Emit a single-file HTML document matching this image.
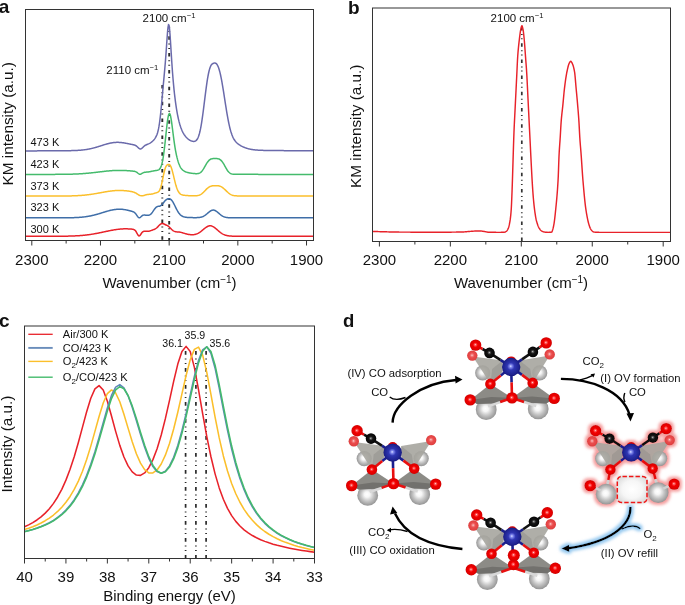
<!DOCTYPE html>
<html><head><meta charset="utf-8"><title>Figure</title>
<style>html,body{margin:0;padding:0;background:#fff;width:685px;height:605px;overflow:hidden}svg{display:block}text{fill:#111}</style>
</head><body>
<svg width="685" height="605" viewBox="0 0 685 605">
<defs>
<radialGradient id="gO" cx="0.5" cy="0.5" r="0.55" fx="0.47" fy="0.46"><stop offset="0" stop-color="#ffe0e0"/><stop offset="0.13" stop-color="#ff6060"/><stop offset="0.38" stop-color="#f20000"/><stop offset="0.82" stop-color="#dc0000"/><stop offset="1" stop-color="#b40000"/></radialGradient>
<radialGradient id="gOl" cx="0.5" cy="0.5" r="0.55" fx="0.47" fy="0.46"><stop offset="0" stop-color="#ffe8e8"/><stop offset="0.15" stop-color="#f58a8a"/><stop offset="0.42" stop-color="#ea4d4d"/><stop offset="0.85" stop-color="#e04040"/><stop offset="1" stop-color="#c43434"/></radialGradient>
<radialGradient id="gB" cx="0.5" cy="0.5" r="0.55" fx="0.47" fy="0.46"><stop offset="0" stop-color="#e0e6ff"/><stop offset="0.12" stop-color="#8890f2"/><stop offset="0.36" stop-color="#2f36b2"/><stop offset="0.78" stop-color="#1e2390"/><stop offset="1" stop-color="#121470"/></radialGradient>
<radialGradient id="gC" cx="0.5" cy="0.5" r="0.55" fx="0.48" fy="0.47"><stop offset="0" stop-color="#d0d0d0"/><stop offset="0.12" stop-color="#6a6a6a"/><stop offset="0.35" stop-color="#151515"/><stop offset="1" stop-color="#000"/></radialGradient>
<radialGradient id="gW" cx="0.5" cy="0.5" r="0.55" fx="0.46" fy="0.44"><stop offset="0" stop-color="#fff"/><stop offset="0.24" stop-color="#f6f6f6"/><stop offset="0.55" stop-color="#c6c6c6"/><stop offset="0.86" stop-color="#9c9c9c"/><stop offset="1" stop-color="#868686"/></radialGradient>
<radialGradient id="gV" cx="0.5" cy="0.5" r="0.62"><stop offset="0" stop-color="#fff"/><stop offset="0.55" stop-color="#f6f6f6"/><stop offset="1" stop-color="#dadada"/></radialGradient>
<filter id="glowR" x="-20%" y="-20%" width="140%" height="140%"><feMorphology in="SourceAlpha" operator="dilate" radius="2.2" result="d"/><feGaussianBlur in="d" stdDeviation="1.7" result="b"/><feFlood flood-color="#f07070" flood-opacity="0.68"/><feComposite in2="b" operator="in" result="g"/><feMerge><feMergeNode in="g"/><feMergeNode in="SourceGraphic"/></feMerge></filter>
<filter id="glowB" x="-20%" y="-20%" width="140%" height="140%"><feMorphology in="SourceAlpha" operator="dilate" radius="1.6" result="d"/><feGaussianBlur in="d" stdDeviation="1.5" result="b"/><feFlood flood-color="#7dbcec" flood-opacity="0.8"/><feComposite in2="b" operator="in" result="g"/><feMerge><feMergeNode in="g"/><feMergeNode in="SourceGraphic"/></feMerge></filter>
<filter id="soft" x="-30%" y="-30%" width="160%" height="160%"><feGaussianBlur stdDeviation="1.5"/></filter>
</defs>
<rect width="685" height="605" fill="#fff"/>
<g id="pa">
<line x1="169.2" y1="26" x2="169.2" y2="240" stroke="#2a2a2a" stroke-width="1.9" stroke-dasharray="3.5 3.7 1 3.4 1 4.2" stroke-dashoffset="6.5"/>
<line x1="162.3" y1="85" x2="162.3" y2="240" stroke="#2a2a2a" stroke-width="1.9" stroke-dasharray="3.5 3.7 1 3.4 1 4.2" stroke-dashoffset="0"/>
<path d="M25.50,150.90 L26.00,150.90 L26.50,150.90 L27.00,150.90 L27.50,150.90 L28.00,150.90 L28.50,150.90 L29.00,150.90 L29.50,150.89 L30.00,150.89 L30.50,150.89 L31.00,150.89 L31.50,150.89 L32.00,150.89 L32.50,150.89 L33.00,150.89 L33.50,150.88 L34.00,150.88 L34.50,150.88 L35.00,150.88 L35.50,150.88 L36.00,150.88 L36.50,150.88 L37.00,150.88 L37.50,150.87 L38.00,150.87 L38.50,150.87 L39.00,150.87 L39.50,150.87 L40.00,150.87 L40.50,150.86 L41.00,150.86 L41.50,150.86 L42.00,150.86 L42.50,150.86 L43.00,150.86 L43.50,150.86 L44.00,150.85 L44.50,150.85 L45.00,150.85 L45.50,150.85 L46.00,150.85 L46.50,150.85 L47.00,150.84 L47.50,150.84 L48.00,150.84 L48.50,150.84 L49.00,150.84 L49.50,150.83 L50.00,150.83 L50.50,150.83 L51.00,150.83 L51.50,150.83 L52.00,150.82 L52.50,150.82 L53.00,150.82 L53.50,150.82 L54.00,150.82 L54.50,150.81 L55.00,150.81 L55.50,150.81 L56.00,150.81 L56.50,150.80 L57.00,150.80 L57.50,150.80 L58.00,150.79 L58.50,150.79 L59.00,150.79 L59.50,150.79 L60.00,150.78 L60.50,150.78 L61.00,150.77 L61.50,150.77 L62.00,150.77 L62.50,150.76 L63.00,150.76 L63.50,150.75 L64.00,150.75 L64.50,150.74 L65.00,150.74 L65.50,150.73 L66.00,150.73 L66.50,150.72 L67.00,150.71 L67.50,150.70 L68.00,150.70 L68.50,150.69 L69.00,150.68 L69.50,150.67 L70.00,150.66 L70.50,150.65 L71.00,150.64 L71.50,150.62 L72.00,150.61 L72.50,150.60 L73.00,150.58 L73.50,150.56 L74.00,150.55 L74.50,150.53 L75.00,150.51 L75.50,150.48 L76.00,150.46 L76.50,150.44 L77.00,150.41 L77.50,150.38 L78.00,150.35 L78.50,150.32 L79.00,150.29 L79.50,150.25 L80.00,150.21 L80.50,150.17 L81.00,150.13 L81.50,150.08 L82.00,150.03 L82.50,149.98 L83.00,149.93 L83.50,149.87 L84.00,149.81 L84.50,149.75 L85.00,149.68 L85.50,149.62 L86.00,149.54 L86.50,149.47 L87.00,149.39 L87.50,149.30 L88.00,149.22 L88.50,149.13 L89.00,149.03 L89.50,148.93 L90.00,148.83 L90.50,148.73 L91.00,148.62 L91.50,148.50 L92.00,148.39 L92.50,148.27 L93.00,148.14 L93.50,148.01 L94.00,147.88 L94.50,147.75 L95.00,147.61 L95.50,147.47 L96.00,147.33 L96.50,147.18 L97.00,147.03 L97.50,146.88 L98.00,146.73 L98.50,146.57 L99.00,146.41 L99.50,146.26 L100.00,146.10 L100.50,145.94 L101.00,145.77 L101.50,145.61 L102.00,145.45 L102.50,145.29 L103.00,145.13 L103.50,144.97 L104.00,144.82 L104.50,144.66 L105.00,144.51 L105.50,144.36 L106.00,144.21 L106.50,144.07 L107.00,143.93 L107.50,143.79 L108.00,143.66 L108.50,143.53 L109.00,143.41 L109.50,143.30 L110.00,143.18 L110.50,143.08 L111.00,142.98 L111.50,142.89 L112.00,142.80 L112.50,142.72 L113.00,142.65 L113.50,142.59 L114.00,142.53 L114.50,142.48 L115.00,142.44 L115.50,142.41 L116.00,142.38 L116.50,142.36 L117.00,142.35 L117.50,142.35 L118.00,142.35 L118.50,142.36 L119.00,142.38 L119.50,142.41 L120.00,142.44 L120.50,142.48 L121.00,142.52 L121.50,142.58 L122.00,142.63 L122.50,142.70 L123.00,142.77 L123.50,142.84 L124.00,142.92 L124.50,143.00 L125.00,143.09 L125.50,143.18 L126.00,143.27 L126.50,143.37 L127.00,143.47 L127.50,143.57 L128.00,143.67 L128.50,143.77 L129.00,143.87 L129.50,143.98 L130.00,144.08 L130.50,144.18 L131.00,144.28 L131.50,144.38 L132.00,144.48 L132.50,144.58 L133.00,144.69 L133.50,144.80 L134.00,144.92 L134.50,145.07 L135.00,145.25 L135.50,145.47 L136.00,145.75 L136.50,146.09 L137.00,146.49 L137.50,146.95 L138.00,147.44 L138.50,147.92 L139.00,148.36 L139.50,148.70 L140.00,148.91 L140.50,148.96 L141.00,148.84 L141.50,148.57 L142.00,148.18 L142.50,147.72 L143.00,147.21 L143.50,146.72 L144.00,146.26 L144.50,145.85 L145.00,145.50 L145.50,145.20 L146.00,144.95 L146.50,144.72 L147.00,144.51 L147.50,144.31 L148.00,144.10 L148.50,143.88 L149.00,143.64 L149.50,143.38 L150.00,143.10 L150.50,142.80 L151.00,142.47 L151.50,142.11 L152.00,141.71 L152.50,141.28 L153.00,140.81 L153.50,140.29 L154.00,139.72 L154.50,139.10 L155.00,138.40 L155.50,137.61 L156.00,136.71 L156.50,135.66 L157.00,134.42 L157.50,132.93 L158.00,131.11 L158.50,128.90 L159.00,126.22 L159.50,123.00 L160.00,119.22 L160.50,114.87 L161.00,110.03 L161.50,104.79 L162.00,99.31 L162.50,93.73 L163.00,88.18 L163.50,82.72 L164.00,77.33 L164.50,71.91 L165.00,66.26 L165.50,60.20 L166.00,53.60 L166.50,46.51 L167.00,39.29 L167.50,32.62 L168.00,27.45 L168.50,24.74 L169.00,25.09 L169.50,28.49 L170.00,34.33 L170.50,41.71 L171.00,49.72 L171.50,57.70 L172.00,65.26 L172.50,72.21 L173.00,78.50 L173.50,84.19 L174.00,89.32 L174.50,93.97 L175.00,98.19 L175.50,102.06 L176.00,105.59 L176.50,108.83 L177.00,111.80 L177.50,114.52 L178.00,117.02 L178.50,119.30 L179.00,121.39 L179.50,123.29 L180.00,125.02 L180.50,126.60 L181.00,128.03 L181.50,129.33 L182.00,130.52 L182.50,131.59 L183.00,132.58 L183.50,133.47 L184.00,134.30 L184.50,135.05 L185.00,135.75 L185.50,136.39 L186.00,136.99 L186.50,137.53 L187.00,138.04 L187.50,138.51 L188.00,138.93 L188.50,139.33 L189.00,139.68 L189.50,140.01 L190.00,140.30 L190.50,140.56 L191.00,140.78 L191.50,140.98 L192.00,141.14 L192.50,141.27 L193.00,141.36 L193.50,141.40 L194.00,141.39 L194.50,141.33 L195.00,141.19 L195.50,140.96 L196.00,140.62 L196.50,140.16 L197.00,139.55 L197.50,138.77 L198.00,137.78 L198.50,136.56 L199.00,135.09 L199.50,133.34 L200.00,131.30 L200.50,128.96 L201.00,126.32 L201.50,123.38 L202.00,120.16 L202.50,116.69 L203.00,113.01 L203.50,109.15 L204.00,105.18 L204.50,101.15 L205.00,97.12 L205.50,93.15 L206.00,89.30 L206.50,85.62 L207.00,82.17 L207.50,78.99 L208.00,76.10 L208.50,73.52 L209.00,71.28 L209.50,69.36 L210.00,67.76 L210.50,66.47 L211.00,65.46 L211.50,64.70 L212.00,64.15 L212.50,63.76 L213.00,63.50 L213.50,63.29 L214.00,63.13 L214.50,63.03 L215.00,63.03 L215.50,63.15 L216.00,63.42 L216.50,63.85 L217.00,64.46 L217.50,65.28 L218.00,66.30 L218.50,67.55 L219.00,69.02 L219.50,70.72 L220.00,72.65 L220.50,74.79 L221.00,77.15 L221.50,79.70 L222.00,82.43 L222.50,85.31 L223.00,88.32 L223.50,91.44 L224.00,94.62 L224.50,97.85 L225.00,101.09 L225.50,104.31 L226.00,107.49 L226.50,110.58 L227.00,113.58 L227.50,116.45 L228.00,119.18 L228.50,121.76 L229.00,124.17 L229.50,126.40 L230.00,128.46 L230.50,130.34 L231.00,132.06 L231.50,133.61 L232.00,135.00 L232.50,136.25 L233.00,137.36 L233.50,138.36 L234.00,139.24 L234.50,140.03 L235.00,140.74 L235.50,141.38 L236.00,141.95 L236.50,142.47 L237.00,142.95 L237.50,143.39 L238.00,143.80 L238.50,144.18 L239.00,144.53 L239.50,144.87 L240.00,145.19 L240.50,145.49 L241.00,145.78 L241.50,146.06 L242.00,146.32 L242.50,146.57 L243.00,146.81 L243.50,147.04 L244.00,147.25 L244.50,147.46 L245.00,147.66 L245.50,147.85 L246.00,148.02 L246.50,148.19 L247.00,148.35 L247.50,148.50 L248.00,148.64 L248.50,148.78 L249.00,148.90 L249.50,149.02 L250.00,149.13 L250.50,149.23 L251.00,149.33 L251.50,149.42 L252.00,149.51 L252.50,149.58 L253.00,149.66 L253.50,149.72 L254.00,149.79 L254.50,149.85 L255.00,149.90 L255.50,149.95 L256.00,150.00 L256.50,150.04 L257.00,150.08 L257.50,150.12 L258.00,150.15 L258.50,150.18 L259.00,150.21 L259.50,150.24 L260.00,150.26 L260.50,150.28 L261.00,150.30 L261.50,150.32 L262.00,150.34 L262.50,150.36 L263.00,150.37 L263.50,150.39 L264.00,150.40 L264.50,150.41 L265.00,150.42 L265.50,150.44 L266.00,150.45 L266.50,150.45 L267.00,150.46 L267.50,150.47 L268.00,150.48 L268.50,150.49 L269.00,150.49 L269.50,150.50 L270.00,150.51 L270.50,150.51 L271.00,150.52 L271.50,150.53 L272.00,150.53 L272.50,150.54 L273.00,150.54 L273.50,150.55 L274.00,150.55 L274.50,150.56 L275.00,150.56 L275.50,150.56 L276.00,150.57 L276.50,150.57 L277.00,150.58 L277.50,150.58 L278.00,150.58 L278.50,150.59 L279.00,150.59 L279.50,150.60 L280.00,150.60 L280.50,150.60 L281.00,150.61 L281.50,150.61 L282.00,150.61 L282.50,150.62 L283.00,150.62 L283.50,150.62 L284.00,150.63 L284.50,150.63 L285.00,150.63 L285.50,150.64 L286.00,150.64 L286.50,150.64 L287.00,150.65 L287.50,150.65 L288.00,150.65 L288.50,150.65 L289.00,150.66 L289.50,150.66 L290.00,150.66 L290.50,150.66 L291.00,150.67 L291.50,150.67 L292.00,150.67 L292.50,150.68 L293.00,150.68 L293.50,150.68 L294.00,150.68 L294.50,150.69 L295.00,150.69 L295.50,150.69 L296.00,150.69 L296.50,150.70 L297.00,150.70 L297.50,150.70 L298.00,150.70 L298.50,150.70 L299.00,150.71 L299.50,150.71 L300.00,150.71 L300.50,150.71 L301.00,150.72 L301.50,150.72 L302.00,150.72 L302.50,150.72 L303.00,150.72 L303.50,150.73 L304.00,150.73 L304.50,150.73 L305.00,150.73 L305.50,150.73 L306.00,150.74 L306.50,150.74 L307.00,150.74 L307.50,150.74 L308.00,150.74 L308.50,150.74 L309.00,150.75 L309.50,150.75 L310.00,150.75 L310.50,150.75 L311.00,150.75 L311.50,150.75 L312.00,150.76 L312.50,150.76 L313.00,150.76" fill="none" stroke="#6a6aab" stroke-width="1.5"/>
<path d="M25.50,174.41 L26.00,174.41 L26.50,174.41 L27.00,174.41 L27.50,174.41 L28.00,174.41 L28.50,174.41 L29.00,174.41 L29.50,174.41 L30.00,174.41 L30.50,174.41 L31.00,174.41 L31.50,174.41 L32.00,174.41 L32.50,174.41 L33.00,174.41 L33.50,174.41 L34.00,174.41 L34.50,174.41 L35.00,174.41 L35.50,174.41 L36.00,174.41 L36.50,174.40 L37.00,174.40 L37.50,174.40 L38.00,174.40 L38.50,174.40 L39.00,174.40 L39.50,174.40 L40.00,174.40 L40.50,174.40 L41.00,174.40 L41.50,174.40 L42.00,174.40 L42.50,174.40 L43.00,174.40 L43.50,174.40 L44.00,174.40 L44.50,174.40 L45.00,174.40 L45.50,174.40 L46.00,174.40 L46.50,174.40 L47.00,174.40 L47.50,174.40 L48.00,174.40 L48.50,174.39 L49.00,174.39 L49.50,174.39 L50.00,174.39 L50.50,174.39 L51.00,174.39 L51.50,174.39 L52.00,174.39 L52.50,174.39 L53.00,174.38 L53.50,174.38 L54.00,174.38 L54.50,174.38 L55.00,174.38 L55.50,174.37 L56.00,174.37 L56.50,174.37 L57.00,174.37 L57.50,174.36 L58.00,174.36 L58.50,174.36 L59.00,174.35 L59.50,174.35 L60.00,174.35 L60.50,174.34 L61.00,174.34 L61.50,174.33 L62.00,174.33 L62.50,174.32 L63.00,174.32 L63.50,174.31 L64.00,174.31 L64.50,174.30 L65.00,174.29 L65.50,174.29 L66.00,174.28 L66.50,174.27 L67.00,174.26 L67.50,174.25 L68.00,174.24 L68.50,174.23 L69.00,174.22 L69.50,174.21 L70.00,174.20 L70.50,174.18 L71.00,174.17 L71.50,174.16 L72.00,174.14 L72.50,174.13 L73.00,174.11 L73.50,174.10 L74.00,174.08 L74.50,174.06 L75.00,174.04 L75.50,174.02 L76.00,174.00 L76.50,173.98 L77.00,173.96 L77.50,173.93 L78.00,173.91 L78.50,173.88 L79.00,173.86 L79.50,173.83 L80.00,173.80 L80.50,173.77 L81.00,173.74 L81.50,173.71 L82.00,173.68 L82.50,173.64 L83.00,173.61 L83.50,173.57 L84.00,173.53 L84.50,173.50 L85.00,173.46 L85.50,173.42 L86.00,173.37 L86.50,173.33 L87.00,173.29 L87.50,173.24 L88.00,173.20 L88.50,173.15 L89.00,173.10 L89.50,173.06 L90.00,173.01 L90.50,172.95 L91.00,172.90 L91.50,172.85 L92.00,172.80 L92.50,172.74 L93.00,172.69 L93.50,172.63 L94.00,172.58 L94.50,172.52 L95.00,172.46 L95.50,172.40 L96.00,172.34 L96.50,172.29 L97.00,172.23 L97.50,172.17 L98.00,172.11 L98.50,172.05 L99.00,171.99 L99.50,171.92 L100.00,171.86 L100.50,171.80 L101.00,171.74 L101.50,171.68 L102.00,171.63 L102.50,171.57 L103.00,171.51 L103.50,171.45 L104.00,171.39 L104.50,171.34 L105.00,171.28 L105.50,171.23 L106.00,171.17 L106.50,171.12 L107.00,171.07 L107.50,171.02 L108.00,170.97 L108.50,170.93 L109.00,170.88 L109.50,170.84 L110.00,170.79 L110.50,170.75 L111.00,170.71 L111.50,170.68 L112.00,170.64 L112.50,170.61 L113.00,170.58 L113.50,170.55 L114.00,170.52 L114.50,170.50 L115.00,170.48 L115.50,170.46 L116.00,170.44 L116.50,170.42 L117.00,170.41 L117.50,170.40 L118.00,170.39 L118.50,170.39 L119.00,170.38 L119.50,170.38 L120.00,170.38 L120.50,170.39 L121.00,170.39 L121.50,170.40 L122.00,170.41 L122.50,170.42 L123.00,170.44 L123.50,170.46 L124.00,170.48 L124.50,170.50 L125.00,170.52 L125.50,170.55 L126.00,170.58 L126.50,170.61 L127.00,170.64 L127.50,170.67 L128.00,170.71 L128.50,170.74 L129.00,170.78 L129.50,170.82 L130.00,170.86 L130.50,170.91 L131.00,170.95 L131.50,171.00 L132.00,171.04 L132.50,171.09 L133.00,171.15 L133.50,171.20 L134.00,171.27 L134.50,171.35 L135.00,171.46 L135.50,171.61 L136.00,171.81 L136.50,172.08 L137.00,172.41 L137.50,172.80 L138.00,173.22 L138.50,173.62 L139.00,173.97 L139.50,174.20 L140.00,174.29 L140.50,174.22 L141.00,174.02 L141.50,173.73 L142.00,173.40 L142.50,173.08 L143.00,172.80 L143.50,172.58 L144.00,172.42 L144.50,172.31 L145.00,172.24 L145.50,172.19 L146.00,172.15 L146.50,172.12 L147.00,172.08 L147.50,172.04 L148.00,171.98 L148.50,171.92 L149.00,171.84 L149.50,171.76 L150.00,171.67 L150.50,171.57 L151.00,171.46 L151.50,171.35 L152.00,171.24 L152.50,171.13 L153.00,171.02 L153.50,170.92 L154.00,170.82 L154.50,170.73 L155.00,170.65 L155.50,170.57 L156.00,170.50 L156.50,170.43 L157.00,170.35 L157.50,170.24 L158.00,170.10 L158.50,169.89 L159.00,169.59 L159.50,169.16 L160.00,168.56 L160.50,167.75 L161.00,166.66 L161.50,165.24 L162.00,163.44 L162.50,161.21 L163.00,158.52 L163.50,155.36 L164.00,151.72 L164.50,147.66 L165.00,143.25 L165.50,138.61 L166.00,133.87 L166.50,129.21 L167.00,124.83 L167.50,120.92 L168.00,117.69 L168.50,115.29 L169.00,113.87 L169.50,113.49 L170.00,114.15 L170.50,115.79 L171.00,118.27 L171.50,121.43 L172.00,125.07 L172.50,128.99 L173.00,133.00 L173.50,136.95 L174.00,140.71 L174.50,144.21 L175.00,147.40 L175.50,150.30 L176.00,152.91 L176.50,155.28 L177.00,157.43 L177.50,159.38 L178.00,161.13 L178.50,162.71 L179.00,164.10 L179.50,165.32 L180.00,166.37 L180.50,167.29 L181.00,168.07 L181.50,168.75 L182.00,169.33 L182.50,169.83 L183.00,170.26 L183.50,170.64 L184.00,170.98 L184.50,171.27 L185.00,171.53 L185.50,171.76 L186.00,171.97 L186.50,172.15 L187.00,172.32 L187.50,172.47 L188.00,172.60 L188.50,172.72 L189.00,172.83 L189.50,172.93 L190.00,173.02 L190.50,173.11 L191.00,173.18 L191.50,173.25 L192.00,173.32 L192.50,173.38 L193.00,173.43 L193.50,173.48 L194.00,173.53 L194.50,173.57 L195.00,173.60 L195.50,173.63 L196.00,173.64 L196.50,173.65 L197.00,173.64 L197.50,173.61 L198.00,173.54 L198.50,173.44 L199.00,173.30 L199.50,173.10 L200.00,172.84 L200.50,172.51 L201.00,172.11 L201.50,171.62 L202.00,171.05 L202.50,170.40 L203.00,169.68 L203.50,168.90 L204.00,168.07 L204.50,167.20 L205.00,166.31 L205.50,165.42 L206.00,164.55 L206.50,163.71 L207.00,162.92 L207.50,162.18 L208.00,161.51 L208.50,160.91 L209.00,160.39 L209.50,159.94 L210.00,159.57 L210.50,159.27 L211.00,159.03 L211.50,158.85 L212.00,158.73 L212.50,158.64 L213.00,158.59 L213.50,158.56 L214.00,158.55 L214.50,158.55 L215.00,158.55 L215.50,158.56 L216.00,158.56 L216.50,158.58 L217.00,158.61 L217.50,158.67 L218.00,158.76 L218.50,158.88 L219.00,159.06 L219.50,159.28 L220.00,159.58 L220.50,159.94 L221.00,160.37 L221.50,160.88 L222.00,161.47 L222.50,162.13 L223.00,162.86 L223.50,163.65 L224.00,164.49 L224.50,165.37 L225.00,166.27 L225.50,167.17 L226.00,168.06 L226.50,168.92 L227.00,169.74 L227.50,170.50 L228.00,171.19 L228.50,171.80 L229.00,172.33 L229.50,172.78 L230.00,173.16 L230.50,173.46 L231.00,173.70 L231.50,173.89 L232.00,174.02 L232.50,174.12 L233.00,174.20 L233.50,174.24 L234.00,174.28 L234.50,174.30 L235.00,174.31 L235.50,174.32 L236.00,174.33 L236.50,174.33 L237.00,174.34 L237.50,174.34 L238.00,174.34 L238.50,174.34 L239.00,174.34 L239.50,174.34 L240.00,174.34 L240.50,174.35 L241.00,174.35 L241.50,174.35 L242.00,174.35 L242.50,174.35 L243.00,174.35 L243.50,174.35 L244.00,174.35 L244.50,174.35 L245.00,174.36 L245.50,174.36 L246.00,174.36 L246.50,174.36 L247.00,174.36 L247.50,174.36 L248.00,174.36 L248.50,174.36 L249.00,174.36 L249.50,174.36 L250.00,174.36 L250.50,174.36 L251.00,174.37 L251.50,174.37 L252.00,174.37 L252.50,174.37 L253.00,174.37 L253.50,174.37 L254.00,174.37 L254.50,174.37 L255.00,174.37 L255.50,174.37 L256.00,174.37 L256.50,174.37 L257.00,174.37 L257.50,174.37 L258.00,174.37 L258.50,174.38 L259.00,174.38 L259.50,174.38 L260.00,174.38 L260.50,174.38 L261.00,174.38 L261.50,174.38 L262.00,174.38 L262.50,174.38 L263.00,174.38 L263.50,174.38 L264.00,174.38 L264.50,174.38 L265.00,174.38 L265.50,174.38 L266.00,174.38 L266.50,174.38 L267.00,174.38 L267.50,174.38 L268.00,174.38 L268.50,174.39 L269.00,174.39 L269.50,174.39 L270.00,174.39 L270.50,174.39 L271.00,174.39 L271.50,174.39 L272.00,174.39 L272.50,174.39 L273.00,174.39 L273.50,174.39 L274.00,174.39 L274.50,174.39 L275.00,174.39 L275.50,174.39 L276.00,174.39 L276.50,174.39 L277.00,174.39 L277.50,174.39 L278.00,174.39 L278.50,174.39 L279.00,174.39 L279.50,174.39 L280.00,174.39 L280.50,174.39 L281.00,174.39 L281.50,174.39 L282.00,174.39 L282.50,174.39 L283.00,174.39 L283.50,174.39 L284.00,174.40 L284.50,174.40 L285.00,174.40 L285.50,174.40 L286.00,174.40 L286.50,174.40 L287.00,174.40 L287.50,174.40 L288.00,174.40 L288.50,174.40 L289.00,174.40 L289.50,174.40 L290.00,174.40 L290.50,174.40 L291.00,174.40 L291.50,174.40 L292.00,174.40 L292.50,174.40 L293.00,174.40 L293.50,174.40 L294.00,174.40 L294.50,174.40 L295.00,174.40 L295.50,174.40 L296.00,174.40 L296.50,174.40 L297.00,174.40 L297.50,174.40 L298.00,174.40 L298.50,174.40 L299.00,174.40 L299.50,174.40 L300.00,174.40 L300.50,174.40 L301.00,174.40 L301.50,174.40 L302.00,174.40 L302.50,174.40 L303.00,174.40 L303.50,174.40 L304.00,174.40 L304.50,174.40 L305.00,174.40 L305.50,174.40 L306.00,174.40 L306.50,174.40 L307.00,174.40 L307.50,174.40 L308.00,174.40 L308.50,174.40 L309.00,174.40 L309.50,174.40 L310.00,174.40 L310.50,174.41 L311.00,174.41 L311.50,174.41 L312.00,174.41 L312.50,174.41 L313.00,174.41" fill="none" stroke="#44bb6c" stroke-width="1.5"/>
<path d="M25.50,196.10 L26.00,196.10 L26.50,196.10 L27.00,196.10 L27.50,196.10 L28.00,196.10 L28.50,196.10 L29.00,196.10 L29.50,196.10 L30.00,196.10 L30.50,196.10 L31.00,196.10 L31.50,196.09 L32.00,196.09 L32.50,196.09 L33.00,196.09 L33.50,196.09 L34.00,196.09 L34.50,196.09 L35.00,196.09 L35.50,196.09 L36.00,196.09 L36.50,196.09 L37.00,196.09 L37.50,196.09 L38.00,196.09 L38.50,196.09 L39.00,196.09 L39.50,196.09 L40.00,196.09 L40.50,196.09 L41.00,196.09 L41.50,196.09 L42.00,196.09 L42.50,196.09 L43.00,196.09 L43.50,196.09 L44.00,196.09 L44.50,196.09 L45.00,196.09 L45.50,196.09 L46.00,196.09 L46.50,196.09 L47.00,196.09 L47.50,196.09 L48.00,196.09 L48.50,196.09 L49.00,196.09 L49.50,196.09 L50.00,196.09 L50.50,196.09 L51.00,196.09 L51.50,196.09 L52.00,196.08 L52.50,196.08 L53.00,196.08 L53.50,196.08 L54.00,196.08 L54.50,196.08 L55.00,196.08 L55.50,196.08 L56.00,196.07 L56.50,196.07 L57.00,196.07 L57.50,196.07 L58.00,196.07 L58.50,196.07 L59.00,196.06 L59.50,196.06 L60.00,196.06 L60.50,196.05 L61.00,196.05 L61.50,196.05 L62.00,196.04 L62.50,196.04 L63.00,196.03 L63.50,196.03 L64.00,196.03 L64.50,196.02 L65.00,196.01 L65.50,196.01 L66.00,196.00 L66.50,195.99 L67.00,195.99 L67.50,195.98 L68.00,195.97 L68.50,195.96 L69.00,195.95 L69.50,195.94 L70.00,195.93 L70.50,195.92 L71.00,195.90 L71.50,195.89 L72.00,195.87 L72.50,195.86 L73.00,195.84 L73.50,195.83 L74.00,195.81 L74.50,195.79 L75.00,195.77 L75.50,195.75 L76.00,195.72 L76.50,195.70 L77.00,195.68 L77.50,195.65 L78.00,195.62 L78.50,195.59 L79.00,195.56 L79.50,195.53 L80.00,195.50 L80.50,195.46 L81.00,195.43 L81.50,195.39 L82.00,195.35 L82.50,195.31 L83.00,195.27 L83.50,195.22 L84.00,195.18 L84.50,195.13 L85.00,195.08 L85.50,195.03 L86.00,194.98 L86.50,194.92 L87.00,194.86 L87.50,194.80 L88.00,194.74 L88.50,194.68 L89.00,194.62 L89.50,194.55 L90.00,194.48 L90.50,194.41 L91.00,194.34 L91.50,194.27 L92.00,194.20 L92.50,194.12 L93.00,194.04 L93.50,193.96 L94.00,193.88 L94.50,193.80 L95.00,193.72 L95.50,193.63 L96.00,193.55 L96.50,193.46 L97.00,193.37 L97.50,193.28 L98.00,193.19 L98.50,193.10 L99.00,193.01 L99.50,192.92 L100.00,192.83 L100.50,192.74 L101.00,192.64 L101.50,192.55 L102.00,192.46 L102.50,192.37 L103.00,192.28 L103.50,192.19 L104.00,192.10 L104.50,192.01 L105.00,191.92 L105.50,191.83 L106.00,191.75 L106.50,191.67 L107.00,191.58 L107.50,191.50 L108.00,191.43 L108.50,191.35 L109.00,191.28 L109.50,191.20 L110.00,191.14 L110.50,191.07 L111.00,191.01 L111.50,190.95 L112.00,190.89 L112.50,190.83 L113.00,190.78 L113.50,190.74 L114.00,190.69 L114.50,190.65 L115.00,190.62 L115.50,190.58 L116.00,190.55 L116.50,190.53 L117.00,190.51 L117.50,190.49 L118.00,190.48 L118.50,190.47 L119.00,190.46 L119.50,190.46 L120.00,190.46 L120.50,190.47 L121.00,190.48 L121.50,190.49 L122.00,190.51 L122.50,190.54 L123.00,190.56 L123.50,190.59 L124.00,190.63 L124.50,190.66 L125.00,190.71 L125.50,190.75 L126.00,190.80 L126.50,190.85 L127.00,190.90 L127.50,190.96 L128.00,191.02 L128.50,191.09 L129.00,191.16 L129.50,191.23 L130.00,191.31 L130.50,191.39 L131.00,191.48 L131.50,191.58 L132.00,191.69 L132.50,191.81 L133.00,191.95 L133.50,192.10 L134.00,192.28 L134.50,192.47 L135.00,192.70 L135.50,192.94 L136.00,193.21 L136.50,193.50 L137.00,193.81 L137.50,194.12 L138.00,194.44 L138.50,194.74 L139.00,195.02 L139.50,195.28 L140.00,195.49 L140.50,195.65 L141.00,195.76 L141.50,195.82 L142.00,195.82 L142.50,195.77 L143.00,195.68 L143.50,195.56 L144.00,195.42 L144.50,195.27 L145.00,195.11 L145.50,194.96 L146.00,194.83 L146.50,194.71 L147.00,194.60 L147.50,194.52 L148.00,194.46 L148.50,194.41 L149.00,194.37 L149.50,194.33 L150.00,194.29 L150.50,194.25 L151.00,194.19 L151.50,194.11 L152.00,194.02 L152.50,193.90 L153.00,193.77 L153.50,193.62 L154.00,193.46 L154.50,193.30 L155.00,193.14 L155.50,192.99 L156.00,192.85 L156.50,192.70 L157.00,192.55 L157.50,192.36 L158.00,192.10 L158.50,191.72 L159.00,191.18 L159.50,190.42 L160.00,189.39 L160.50,188.07 L161.00,186.43 L161.50,184.50 L162.00,182.31 L162.50,179.94 L163.00,177.50 L163.50,175.07 L164.00,172.79 L164.50,170.74 L165.00,168.98 L165.50,167.56 L166.00,166.46 L166.50,165.65 L167.00,165.09 L167.50,164.72 L168.00,164.49 L168.50,164.39 L169.00,164.43 L169.50,164.65 L170.00,165.09 L170.50,165.81 L171.00,166.84 L171.50,168.16 L172.00,169.77 L172.50,171.59 L173.00,173.59 L173.50,175.68 L174.00,177.80 L174.50,179.90 L175.00,181.92 L175.50,183.83 L176.00,185.59 L176.50,187.18 L177.00,188.60 L177.50,189.83 L178.00,190.89 L178.50,191.79 L179.00,192.53 L179.50,193.14 L180.00,193.63 L180.50,194.03 L181.00,194.34 L181.50,194.59 L182.00,194.79 L182.50,194.95 L183.00,195.07 L183.50,195.17 L184.00,195.25 L184.50,195.32 L185.00,195.38 L185.50,195.43 L186.00,195.47 L186.50,195.51 L187.00,195.54 L187.50,195.57 L188.00,195.60 L188.50,195.63 L189.00,195.65 L189.50,195.67 L190.00,195.69 L190.50,195.71 L191.00,195.73 L191.50,195.74 L192.00,195.76 L192.50,195.77 L193.00,195.78 L193.50,195.79 L194.00,195.79 L194.50,195.79 L195.00,195.79 L195.50,195.77 L196.00,195.75 L196.50,195.72 L197.00,195.66 L197.50,195.60 L198.00,195.50 L198.50,195.39 L199.00,195.24 L199.50,195.05 L200.00,194.83 L200.50,194.57 L201.00,194.27 L201.50,193.93 L202.00,193.55 L202.50,193.14 L203.00,192.68 L203.50,192.21 L204.00,191.71 L204.50,191.19 L205.00,190.67 L205.50,190.15 L206.00,189.63 L206.50,189.14 L207.00,188.66 L207.50,188.22 L208.00,187.81 L208.50,187.43 L209.00,187.10 L209.50,186.80 L210.00,186.55 L210.50,186.34 L211.00,186.16 L211.50,186.02 L212.00,185.91 L212.50,185.83 L213.00,185.78 L213.50,185.74 L214.00,185.72 L214.50,185.71 L215.00,185.70 L215.50,185.70 L216.00,185.69 L216.50,185.69 L217.00,185.71 L217.50,185.73 L218.00,185.77 L218.50,185.84 L219.00,185.93 L219.50,186.04 L220.00,186.20 L220.50,186.39 L221.00,186.61 L221.50,186.88 L222.00,187.18 L222.50,187.53 L223.00,187.90 L223.50,188.31 L224.00,188.74 L224.50,189.20 L225.00,189.67 L225.50,190.15 L226.00,190.64 L226.50,191.12 L227.00,191.59 L227.50,192.05 L228.00,192.50 L228.50,192.93 L229.00,193.33 L229.50,193.71 L230.00,194.05 L230.50,194.37 L231.00,194.64 L231.50,194.88 L232.00,195.09 L232.50,195.26 L233.00,195.41 L233.50,195.52 L234.00,195.62 L234.50,195.69 L235.00,195.75 L235.50,195.80 L236.00,195.83 L236.50,195.86 L237.00,195.89 L237.50,195.91 L238.00,195.92 L238.50,195.94 L239.00,195.95 L239.50,195.96 L240.00,195.97 L240.50,195.97 L241.00,195.98 L241.50,195.99 L242.00,195.99 L242.50,196.00 L243.00,196.00 L243.50,196.01 L244.00,196.01 L244.50,196.02 L245.00,196.02 L245.50,196.02 L246.00,196.03 L246.50,196.03 L247.00,196.03 L247.50,196.03 L248.00,196.04 L248.50,196.04 L249.00,196.04 L249.50,196.04 L250.00,196.04 L250.50,196.05 L251.00,196.05 L251.50,196.05 L252.00,196.05 L252.50,196.05 L253.00,196.05 L253.50,196.06 L254.00,196.06 L254.50,196.06 L255.00,196.06 L255.50,196.06 L256.00,196.06 L256.50,196.06 L257.00,196.06 L257.50,196.06 L258.00,196.06 L258.50,196.07 L259.00,196.07 L259.50,196.07 L260.00,196.07 L260.50,196.07 L261.00,196.07 L261.50,196.07 L262.00,196.07 L262.50,196.07 L263.00,196.07 L263.50,196.07 L264.00,196.07 L264.50,196.07 L265.00,196.07 L265.50,196.07 L266.00,196.07 L266.50,196.08 L267.00,196.08 L267.50,196.08 L268.00,196.08 L268.50,196.08 L269.00,196.08 L269.50,196.08 L270.00,196.08 L270.50,196.08 L271.00,196.08 L271.50,196.08 L272.00,196.08 L272.50,196.08 L273.00,196.08 L273.50,196.08 L274.00,196.08 L274.50,196.08 L275.00,196.08 L275.50,196.08 L276.00,196.08 L276.50,196.08 L277.00,196.08 L277.50,196.08 L278.00,196.08 L278.50,196.08 L279.00,196.08 L279.50,196.08 L280.00,196.08 L280.50,196.08 L281.00,196.08 L281.50,196.08 L282.00,196.09 L282.50,196.09 L283.00,196.09 L283.50,196.09 L284.00,196.09 L284.50,196.09 L285.00,196.09 L285.50,196.09 L286.00,196.09 L286.50,196.09 L287.00,196.09 L287.50,196.09 L288.00,196.09 L288.50,196.09 L289.00,196.09 L289.50,196.09 L290.00,196.09 L290.50,196.09 L291.00,196.09 L291.50,196.09 L292.00,196.09 L292.50,196.09 L293.00,196.09 L293.50,196.09 L294.00,196.09 L294.50,196.09 L295.00,196.09 L295.50,196.09 L296.00,196.09 L296.50,196.09 L297.00,196.09 L297.50,196.09 L298.00,196.09 L298.50,196.09 L299.00,196.09 L299.50,196.09 L300.00,196.09 L300.50,196.09 L301.00,196.09 L301.50,196.09 L302.00,196.09 L302.50,196.09 L303.00,196.09 L303.50,196.09 L304.00,196.09 L304.50,196.09 L305.00,196.09 L305.50,196.09 L306.00,196.09 L306.50,196.09 L307.00,196.09 L307.50,196.09 L308.00,196.09 L308.50,196.09 L309.00,196.09 L309.50,196.09 L310.00,196.09 L310.50,196.09 L311.00,196.09 L311.50,196.09 L312.00,196.09 L312.50,196.09 L313.00,196.09" fill="none" stroke="#fbbf2b" stroke-width="1.5"/>
<path d="M25.50,217.87 L26.00,217.87 L26.50,217.87 L27.00,217.87 L27.50,217.87 L28.00,217.87 L28.50,217.87 L29.00,217.87 L29.50,217.87 L30.00,217.87 L30.50,217.87 L31.00,217.87 L31.50,217.87 L32.00,217.87 L32.50,217.87 L33.00,217.87 L33.50,217.87 L34.00,217.87 L34.50,217.87 L35.00,217.87 L35.50,217.87 L36.00,217.87 L36.50,217.87 L37.00,217.87 L37.50,217.87 L38.00,217.87 L38.50,217.87 L39.00,217.87 L39.50,217.87 L40.00,217.87 L40.50,217.87 L41.00,217.87 L41.50,217.87 L42.00,217.87 L42.50,217.87 L43.00,217.87 L43.50,217.87 L44.00,217.87 L44.50,217.87 L45.00,217.87 L45.50,217.87 L46.00,217.87 L46.50,217.87 L47.00,217.87 L47.50,217.87 L48.00,217.87 L48.50,217.87 L49.00,217.87 L49.50,217.87 L50.00,217.87 L50.50,217.87 L51.00,217.87 L51.50,217.87 L52.00,217.87 L52.50,217.87 L53.00,217.87 L53.50,217.86 L54.00,217.86 L54.50,217.86 L55.00,217.86 L55.50,217.86 L56.00,217.86 L56.50,217.86 L57.00,217.86 L57.50,217.86 L58.00,217.86 L58.50,217.86 L59.00,217.85 L59.50,217.85 L60.00,217.85 L60.50,217.85 L61.00,217.85 L61.50,217.84 L62.00,217.84 L62.50,217.84 L63.00,217.84 L63.50,217.83 L64.00,217.83 L64.50,217.83 L65.00,217.82 L65.50,217.82 L66.00,217.81 L66.50,217.81 L67.00,217.80 L67.50,217.79 L68.00,217.79 L68.50,217.78 L69.00,217.77 L69.50,217.76 L70.00,217.75 L70.50,217.74 L71.00,217.73 L71.50,217.72 L72.00,217.71 L72.50,217.69 L73.00,217.68 L73.50,217.66 L74.00,217.64 L74.50,217.62 L75.00,217.60 L75.50,217.58 L76.00,217.56 L76.50,217.54 L77.00,217.51 L77.50,217.48 L78.00,217.45 L78.50,217.42 L79.00,217.39 L79.50,217.35 L80.00,217.32 L80.50,217.28 L81.00,217.23 L81.50,217.19 L82.00,217.14 L82.50,217.09 L83.00,217.04 L83.50,216.99 L84.00,216.93 L84.50,216.87 L85.00,216.81 L85.50,216.74 L86.00,216.67 L86.50,216.60 L87.00,216.52 L87.50,216.44 L88.00,216.36 L88.50,216.28 L89.00,216.19 L89.50,216.09 L90.00,216.00 L90.50,215.90 L91.00,215.80 L91.50,215.69 L92.00,215.58 L92.50,215.47 L93.00,215.35 L93.50,215.23 L94.00,215.11 L94.50,214.98 L95.00,214.85 L95.50,214.72 L96.00,214.59 L96.50,214.45 L97.00,214.31 L97.50,214.17 L98.00,214.02 L98.50,213.88 L99.00,213.73 L99.50,213.58 L100.00,213.42 L100.50,213.27 L101.00,213.12 L101.50,212.96 L102.00,212.80 L102.50,212.65 L103.00,212.49 L103.50,212.34 L104.00,212.18 L104.50,212.02 L105.00,211.87 L105.50,211.72 L106.00,211.57 L106.50,211.42 L107.00,211.27 L107.50,211.13 L108.00,210.99 L108.50,210.85 L109.00,210.72 L109.50,210.59 L110.00,210.47 L110.50,210.34 L111.00,210.23 L111.50,210.12 L112.00,210.01 L112.50,209.91 L113.00,209.82 L113.50,209.73 L114.00,209.65 L114.50,209.58 L115.00,209.51 L115.50,209.45 L116.00,209.39 L116.50,209.35 L117.00,209.31 L117.50,209.28 L118.00,209.25 L118.50,209.23 L119.00,209.23 L119.50,209.22 L120.00,209.23 L120.50,209.24 L121.00,209.27 L121.50,209.29 L122.00,209.33 L122.50,209.37 L123.00,209.43 L123.50,209.48 L124.00,209.55 L124.50,209.62 L125.00,209.70 L125.50,209.78 L126.00,209.87 L126.50,209.97 L127.00,210.07 L127.50,210.18 L128.00,210.29 L128.50,210.41 L129.00,210.53 L129.50,210.66 L130.00,210.79 L130.50,210.93 L131.00,211.07 L131.50,211.21 L132.00,211.36 L132.50,211.53 L133.00,211.71 L133.50,211.93 L134.00,212.19 L134.50,212.52 L135.00,212.94 L135.50,213.47 L136.00,214.10 L136.50,214.82 L137.00,215.59 L137.50,216.35 L138.00,217.01 L138.50,217.50 L139.00,217.77 L139.50,217.80 L140.00,217.60 L140.50,217.23 L141.00,216.77 L141.50,216.29 L142.00,215.86 L142.50,215.51 L143.00,215.27 L143.50,215.12 L144.00,215.06 L144.50,215.06 L145.00,215.10 L145.50,215.16 L146.00,215.22 L146.50,215.28 L147.00,215.32 L147.50,215.33 L148.00,215.31 L148.50,215.24 L149.00,215.12 L149.50,214.94 L150.00,214.68 L150.50,214.35 L151.00,213.92 L151.50,213.41 L152.00,212.82 L152.50,212.16 L153.00,211.44 L153.50,210.69 L154.00,209.94 L154.50,209.20 L155.00,208.52 L155.50,207.91 L156.00,207.40 L156.50,207.00 L157.00,206.70 L157.50,206.50 L158.00,206.37 L158.50,206.30 L159.00,206.24 L159.50,206.16 L160.00,206.02 L160.50,205.81 L161.00,205.51 L161.50,205.10 L162.00,204.60 L162.50,204.02 L163.00,203.39 L163.50,202.73 L164.00,202.07 L164.50,201.44 L165.00,200.85 L165.50,200.33 L166.00,199.89 L166.50,199.52 L167.00,199.22 L167.50,199.00 L168.00,198.84 L168.50,198.76 L169.00,198.75 L169.50,198.81 L170.00,198.97 L170.50,199.24 L171.00,199.61 L171.50,200.09 L172.00,200.69 L172.50,201.40 L173.00,202.20 L173.50,203.09 L174.00,204.03 L174.50,205.03 L175.00,206.04 L175.50,207.06 L176.00,208.07 L176.50,209.06 L177.00,210.00 L177.50,210.90 L178.00,211.74 L178.50,212.51 L179.00,213.21 L179.50,213.85 L180.00,214.41 L180.50,214.91 L181.00,215.34 L181.50,215.71 L182.00,216.03 L182.50,216.30 L183.00,216.53 L183.50,216.72 L184.00,216.88 L184.50,217.00 L185.00,217.11 L185.50,217.20 L186.00,217.27 L186.50,217.33 L187.00,217.38 L187.50,217.42 L188.00,217.46 L188.50,217.48 L189.00,217.51 L189.50,217.53 L190.00,217.55 L190.50,217.57 L191.00,217.58 L191.50,217.60 L192.00,217.61 L192.50,217.62 L193.00,217.63 L193.50,217.63 L194.00,217.64 L194.50,217.64 L195.00,217.65 L195.50,217.64 L196.00,217.64 L196.50,217.63 L197.00,217.62 L197.50,217.60 L198.00,217.57 L198.50,217.53 L199.00,217.48 L199.50,217.42 L200.00,217.35 L200.50,217.26 L201.00,217.15 L201.50,217.01 L202.00,216.86 L202.50,216.68 L203.00,216.47 L203.50,216.23 L204.00,215.96 L204.50,215.66 L205.00,215.34 L205.50,214.98 L206.00,214.60 L206.50,214.20 L207.00,213.79 L207.50,213.36 L208.00,212.93 L208.50,212.50 L209.00,212.08 L209.50,211.69 L210.00,211.32 L210.50,210.98 L211.00,210.69 L211.50,210.45 L212.00,210.27 L212.50,210.15 L213.00,210.09 L213.50,210.09 L214.00,210.16 L214.50,210.29 L215.00,210.48 L215.50,210.73 L216.00,211.03 L216.50,211.37 L217.00,211.75 L217.50,212.15 L218.00,212.57 L218.50,213.01 L219.00,213.44 L219.50,213.87 L220.00,214.29 L220.50,214.69 L221.00,215.07 L221.50,215.43 L222.00,215.75 L222.50,216.05 L223.00,216.32 L223.50,216.56 L224.00,216.77 L224.50,216.96 L225.00,217.12 L225.50,217.25 L226.00,217.37 L226.50,217.46 L227.00,217.54 L227.50,217.60 L228.00,217.66 L228.50,217.70 L229.00,217.73 L229.50,217.76 L230.00,217.78 L230.50,217.80 L231.00,217.81 L231.50,217.82 L232.00,217.83 L232.50,217.83 L233.00,217.84 L233.50,217.84 L234.00,217.84 L234.50,217.84 L235.00,217.84 L235.50,217.85 L236.00,217.85 L236.50,217.85 L237.00,217.85 L237.50,217.85 L238.00,217.85 L238.50,217.85 L239.00,217.85 L239.50,217.85 L240.00,217.85 L240.50,217.85 L241.00,217.85 L241.50,217.85 L242.00,217.85 L242.50,217.85 L243.00,217.85 L243.50,217.85 L244.00,217.85 L244.50,217.85 L245.00,217.85 L245.50,217.85 L246.00,217.86 L246.50,217.86 L247.00,217.86 L247.50,217.86 L248.00,217.86 L248.50,217.86 L249.00,217.86 L249.50,217.86 L250.00,217.86 L250.50,217.86 L251.00,217.86 L251.50,217.86 L252.00,217.86 L252.50,217.86 L253.00,217.86 L253.50,217.86 L254.00,217.86 L254.50,217.86 L255.00,217.86 L255.50,217.86 L256.00,217.86 L256.50,217.86 L257.00,217.86 L257.50,217.86 L258.00,217.86 L258.50,217.86 L259.00,217.86 L259.50,217.86 L260.00,217.86 L260.50,217.86 L261.00,217.86 L261.50,217.86 L262.00,217.86 L262.50,217.86 L263.00,217.86 L263.50,217.86 L264.00,217.86 L264.50,217.86 L265.00,217.86 L265.50,217.86 L266.00,217.86 L266.50,217.86 L267.00,217.86 L267.50,217.86 L268.00,217.86 L268.50,217.86 L269.00,217.86 L269.50,217.86 L270.00,217.86 L270.50,217.86 L271.00,217.86 L271.50,217.86 L272.00,217.87 L272.50,217.87 L273.00,217.87 L273.50,217.87 L274.00,217.87 L274.50,217.87 L275.00,217.87 L275.50,217.87 L276.00,217.87 L276.50,217.87 L277.00,217.87 L277.50,217.87 L278.00,217.87 L278.50,217.87 L279.00,217.87 L279.50,217.87 L280.00,217.87 L280.50,217.87 L281.00,217.87 L281.50,217.87 L282.00,217.87 L282.50,217.87 L283.00,217.87 L283.50,217.87 L284.00,217.87 L284.50,217.87 L285.00,217.87 L285.50,217.87 L286.00,217.87 L286.50,217.87 L287.00,217.87 L287.50,217.87 L288.00,217.87 L288.50,217.87 L289.00,217.87 L289.50,217.87 L290.00,217.87 L290.50,217.87 L291.00,217.87 L291.50,217.87 L292.00,217.87 L292.50,217.87 L293.00,217.87 L293.50,217.87 L294.00,217.87 L294.50,217.87 L295.00,217.87 L295.50,217.87 L296.00,217.87 L296.50,217.87 L297.00,217.87 L297.50,217.87 L298.00,217.87 L298.50,217.87 L299.00,217.87 L299.50,217.87 L300.00,217.87 L300.50,217.87 L301.00,217.87 L301.50,217.87 L302.00,217.87 L302.50,217.87 L303.00,217.87 L303.50,217.87 L304.00,217.87 L304.50,217.87 L305.00,217.87 L305.50,217.87 L306.00,217.87 L306.50,217.87 L307.00,217.87 L307.50,217.87 L308.00,217.87 L308.50,217.87 L309.00,217.87 L309.50,217.87 L310.00,217.87 L310.50,217.87 L311.00,217.87 L311.50,217.87 L312.00,217.87 L312.50,217.87 L313.00,217.87" fill="none" stroke="#3f6ea8" stroke-width="1.5"/>
<path d="M25.50,236.32 L26.00,236.32 L26.50,236.32 L27.00,236.32 L27.50,236.32 L28.00,236.32 L28.50,236.32 L29.00,236.32 L29.50,236.32 L30.00,236.32 L30.50,236.32 L31.00,236.32 L31.50,236.32 L32.00,236.32 L32.50,236.32 L33.00,236.32 L33.50,236.32 L34.00,236.32 L34.50,236.32 L35.00,236.32 L35.50,236.32 L36.00,236.32 L36.50,236.32 L37.00,236.32 L37.50,236.32 L38.00,236.32 L38.50,236.32 L39.00,236.32 L39.50,236.32 L40.00,236.32 L40.50,236.32 L41.00,236.32 L41.50,236.32 L42.00,236.32 L42.50,236.32 L43.00,236.32 L43.50,236.32 L44.00,236.32 L44.50,236.32 L45.00,236.32 L45.50,236.31 L46.00,236.31 L46.50,236.31 L47.00,236.31 L47.50,236.31 L48.00,236.31 L48.50,236.31 L49.00,236.31 L49.50,236.31 L50.00,236.31 L50.50,236.31 L51.00,236.30 L51.50,236.30 L52.00,236.30 L52.50,236.30 L53.00,236.30 L53.50,236.30 L54.00,236.29 L54.50,236.29 L55.00,236.29 L55.50,236.29 L56.00,236.29 L56.50,236.28 L57.00,236.28 L57.50,236.28 L58.00,236.27 L58.50,236.27 L59.00,236.27 L59.50,236.26 L60.00,236.26 L60.50,236.25 L61.00,236.25 L61.50,236.24 L62.00,236.24 L62.50,236.23 L63.00,236.23 L63.50,236.22 L64.00,236.21 L64.50,236.20 L65.00,236.20 L65.50,236.19 L66.00,236.18 L66.50,236.17 L67.00,236.16 L67.50,236.15 L68.00,236.14 L68.50,236.12 L69.00,236.11 L69.50,236.10 L70.00,236.08 L70.50,236.07 L71.00,236.05 L71.50,236.04 L72.00,236.02 L72.50,236.00 L73.00,235.98 L73.50,235.96 L74.00,235.94 L74.50,235.92 L75.00,235.89 L75.50,235.87 L76.00,235.84 L76.50,235.82 L77.00,235.79 L77.50,235.76 L78.00,235.73 L78.50,235.70 L79.00,235.66 L79.50,235.63 L80.00,235.59 L80.50,235.55 L81.00,235.52 L81.50,235.47 L82.00,235.43 L82.50,235.39 L83.00,235.34 L83.50,235.29 L84.00,235.25 L84.50,235.19 L85.00,235.14 L85.50,235.09 L86.00,235.03 L86.50,234.97 L87.00,234.91 L87.50,234.85 L88.00,234.79 L88.50,234.72 L89.00,234.65 L89.50,234.59 L90.00,234.51 L90.50,234.44 L91.00,234.37 L91.50,234.29 L92.00,234.21 L92.50,234.13 L93.00,234.05 L93.50,233.96 L94.00,233.88 L94.50,233.79 L95.00,233.70 L95.50,233.61 L96.00,233.52 L96.50,233.43 L97.00,233.33 L97.50,233.23 L98.00,233.14 L98.50,233.04 L99.00,232.94 L99.50,232.83 L100.00,232.73 L100.50,232.63 L101.00,232.52 L101.50,232.42 L102.00,232.31 L102.50,232.21 L103.00,232.10 L103.50,231.99 L104.00,231.88 L104.50,231.78 L105.00,231.67 L105.50,231.56 L106.00,231.45 L106.50,231.35 L107.00,231.24 L107.50,231.14 L108.00,231.03 L108.50,230.93 L109.00,230.82 L109.50,230.72 L110.00,230.62 L110.50,230.52 L111.00,230.43 L111.50,230.33 L112.00,230.24 L112.50,230.15 L113.00,230.06 L113.50,229.97 L114.00,229.88 L114.50,229.80 L115.00,229.72 L115.50,229.65 L116.00,229.57 L116.50,229.50 L117.00,229.43 L117.50,229.37 L118.00,229.31 L118.50,229.25 L119.00,229.19 L119.50,229.14 L120.00,229.10 L120.50,229.05 L121.00,229.01 L121.50,228.98 L122.00,228.95 L122.50,228.92 L123.00,228.89 L123.50,228.87 L124.00,228.86 L124.50,228.85 L125.00,228.84 L125.50,228.84 L126.00,228.84 L126.50,228.84 L127.00,228.85 L127.50,228.87 L128.00,228.88 L128.50,228.90 L129.00,228.93 L129.50,228.96 L130.00,228.99 L130.50,229.03 L131.00,229.07 L131.50,229.12 L132.00,229.17 L132.50,229.24 L133.00,229.33 L133.50,229.46 L134.00,229.64 L134.50,229.91 L135.00,230.30 L135.50,230.83 L136.00,231.53 L136.50,232.37 L137.00,233.30 L137.50,234.23 L138.00,235.04 L138.50,235.63 L139.00,235.89 L139.50,235.80 L140.00,235.39 L140.50,234.75 L141.00,233.99 L141.50,233.23 L142.00,232.56 L142.50,232.03 L143.00,231.65 L143.50,231.42 L144.00,231.30 L144.50,231.26 L145.00,231.26 L145.50,231.28 L146.00,231.31 L146.50,231.33 L147.00,231.34 L147.50,231.33 L148.00,231.29 L148.50,231.23 L149.00,231.14 L149.50,231.03 L150.00,230.90 L150.50,230.75 L151.00,230.59 L151.50,230.41 L152.00,230.23 L152.50,230.04 L153.00,229.85 L153.50,229.65 L154.00,229.44 L154.50,229.22 L155.00,228.97 L155.50,228.68 L156.00,228.36 L156.50,227.99 L157.00,227.57 L157.50,227.10 L158.00,226.61 L158.50,226.09 L159.00,225.57 L159.50,225.07 L160.00,224.61 L160.50,224.22 L161.00,223.92 L161.50,223.70 L162.00,223.59 L162.50,223.57 L163.00,223.64 L163.50,223.79 L164.00,223.99 L164.50,224.22 L165.00,224.47 L165.50,224.72 L166.00,224.96 L166.50,225.20 L167.00,225.44 L167.50,225.70 L168.00,225.99 L168.50,226.34 L169.00,226.74 L169.50,227.19 L170.00,227.69 L170.50,228.22 L171.00,228.75 L171.50,229.26 L172.00,229.74 L172.50,230.19 L173.00,230.58 L173.50,230.91 L174.00,231.19 L174.50,231.42 L175.00,231.59 L175.50,231.71 L176.00,231.80 L176.50,231.86 L177.00,231.90 L177.50,231.93 L178.00,231.95 L178.50,231.98 L179.00,232.03 L179.50,232.08 L180.00,232.16 L180.50,232.25 L181.00,232.36 L181.50,232.49 L182.00,232.63 L182.50,232.78 L183.00,232.93 L183.50,233.09 L184.00,233.25 L184.50,233.40 L185.00,233.56 L185.50,233.70 L186.00,233.84 L186.50,233.97 L187.00,234.10 L187.50,234.21 L188.00,234.31 L188.50,234.40 L189.00,234.49 L189.50,234.56 L190.00,234.61 L190.50,234.66 L191.00,234.69 L191.50,234.71 L192.00,234.72 L192.50,234.71 L193.00,234.68 L193.50,234.64 L194.00,234.58 L194.50,234.50 L195.00,234.40 L195.50,234.27 L196.00,234.13 L196.50,233.96 L197.00,233.77 L197.50,233.56 L198.00,233.32 L198.50,233.06 L199.00,232.77 L199.50,232.46 L200.00,232.13 L200.50,231.77 L201.00,231.40 L201.50,231.01 L202.00,230.61 L202.50,230.20 L203.00,229.78 L203.50,229.36 L204.00,228.94 L204.50,228.53 L205.00,228.13 L205.50,227.74 L206.00,227.38 L206.50,227.04 L207.00,226.74 L207.50,226.47 L208.00,226.24 L208.50,226.05 L209.00,225.91 L209.50,225.81 L210.00,225.77 L210.50,225.78 L211.00,225.84 L211.50,225.95 L212.00,226.11 L212.50,226.31 L213.00,226.56 L213.50,226.85 L214.00,227.17 L214.50,227.52 L215.00,227.90 L215.50,228.31 L216.00,228.73 L216.50,229.16 L217.00,229.60 L217.50,230.04 L218.00,230.48 L218.50,230.92 L219.00,231.34 L219.50,231.75 L220.00,232.15 L220.50,232.53 L221.00,232.89 L221.50,233.23 L222.00,233.55 L222.50,233.85 L223.00,234.12 L223.50,234.37 L224.00,234.60 L224.50,234.81 L225.00,235.00 L225.50,235.17 L226.00,235.31 L226.50,235.45 L227.00,235.56 L227.50,235.67 L228.00,235.76 L228.50,235.83 L229.00,235.90 L229.50,235.96 L230.00,236.01 L230.50,236.05 L231.00,236.08 L231.50,236.11 L232.00,236.14 L232.50,236.16 L233.00,236.18 L233.50,236.19 L234.00,236.20 L234.50,236.21 L235.00,236.22 L235.50,236.23 L236.00,236.23 L236.50,236.24 L237.00,236.24 L237.50,236.25 L238.00,236.25 L238.50,236.25 L239.00,236.25 L239.50,236.26 L240.00,236.26 L240.50,236.26 L241.00,236.26 L241.50,236.26 L242.00,236.26 L242.50,236.27 L243.00,236.27 L243.50,236.27 L244.00,236.27 L244.50,236.27 L245.00,236.27 L245.50,236.27 L246.00,236.27 L246.50,236.27 L247.00,236.27 L247.50,236.28 L248.00,236.28 L248.50,236.28 L249.00,236.28 L249.50,236.28 L250.00,236.28 L250.50,236.28 L251.00,236.28 L251.50,236.28 L252.00,236.28 L252.50,236.28 L253.00,236.28 L253.50,236.28 L254.00,236.29 L254.50,236.29 L255.00,236.29 L255.50,236.29 L256.00,236.29 L256.50,236.29 L257.00,236.29 L257.50,236.29 L258.00,236.29 L258.50,236.29 L259.00,236.29 L259.50,236.29 L260.00,236.29 L260.50,236.29 L261.00,236.29 L261.50,236.29 L262.00,236.29 L262.50,236.30 L263.00,236.30 L263.50,236.30 L264.00,236.30 L264.50,236.30 L265.00,236.30 L265.50,236.30 L266.00,236.30 L266.50,236.30 L267.00,236.30 L267.50,236.30 L268.00,236.30 L268.50,236.30 L269.00,236.30 L269.50,236.30 L270.00,236.30 L270.50,236.30 L271.00,236.30 L271.50,236.30 L272.00,236.30 L272.50,236.30 L273.00,236.30 L273.50,236.30 L274.00,236.30 L274.50,236.31 L275.00,236.31 L275.50,236.31 L276.00,236.31 L276.50,236.31 L277.00,236.31 L277.50,236.31 L278.00,236.31 L278.50,236.31 L279.00,236.31 L279.50,236.31 L280.00,236.31 L280.50,236.31 L281.00,236.31 L281.50,236.31 L282.00,236.31 L282.50,236.31 L283.00,236.31 L283.50,236.31 L284.00,236.31 L284.50,236.31 L285.00,236.31 L285.50,236.31 L286.00,236.31 L286.50,236.31 L287.00,236.31 L287.50,236.31 L288.00,236.31 L288.50,236.31 L289.00,236.31 L289.50,236.31 L290.00,236.31 L290.50,236.31 L291.00,236.31 L291.50,236.31 L292.00,236.31 L292.50,236.31 L293.00,236.31 L293.50,236.31 L294.00,236.31 L294.50,236.32 L295.00,236.32 L295.50,236.32 L296.00,236.32 L296.50,236.32 L297.00,236.32 L297.50,236.32 L298.00,236.32 L298.50,236.32 L299.00,236.32 L299.50,236.32 L300.00,236.32 L300.50,236.32 L301.00,236.32 L301.50,236.32 L302.00,236.32 L302.50,236.32 L303.00,236.32 L303.50,236.32 L304.00,236.32 L304.50,236.32 L305.00,236.32 L305.50,236.32 L306.00,236.32 L306.50,236.32 L307.00,236.32 L307.50,236.32 L308.00,236.32 L308.50,236.32 L309.00,236.32 L309.50,236.32 L310.00,236.32 L310.50,236.32 L311.00,236.32 L311.50,236.32 L312.00,236.32 L312.50,236.32 L313.00,236.32" fill="none" stroke="#e8222a" stroke-width="1.5"/>
<rect x="25.5" y="9.5" width="288" height="231" fill="none" stroke="#333" stroke-width="1"/>
<line x1="31.80" y1="240.5" x2="31.80" y2="245.5" stroke="#333" stroke-width="1"/>
<text x="31.80" y="265" text-anchor="middle" style="font-family:'Liberation Sans',Arial,Helvetica,sans-serif;font-size:15px">2300</text>
<line x1="66.14" y1="240.5" x2="66.14" y2="243.5" stroke="#333" stroke-width="1"/>
<line x1="100.48" y1="240.5" x2="100.48" y2="245.5" stroke="#333" stroke-width="1"/>
<text x="100.48" y="265" text-anchor="middle" style="font-family:'Liberation Sans',Arial,Helvetica,sans-serif;font-size:15px">2200</text>
<line x1="134.82" y1="240.5" x2="134.82" y2="243.5" stroke="#333" stroke-width="1"/>
<line x1="169.16" y1="240.5" x2="169.16" y2="245.5" stroke="#333" stroke-width="1"/>
<text x="169.16" y="265" text-anchor="middle" style="font-family:'Liberation Sans',Arial,Helvetica,sans-serif;font-size:15px">2100</text>
<line x1="203.50" y1="240.5" x2="203.50" y2="243.5" stroke="#333" stroke-width="1"/>
<line x1="237.84" y1="240.5" x2="237.84" y2="245.5" stroke="#333" stroke-width="1"/>
<text x="237.84" y="265" text-anchor="middle" style="font-family:'Liberation Sans',Arial,Helvetica,sans-serif;font-size:15px">2000</text>
<line x1="272.18" y1="240.5" x2="272.18" y2="243.5" stroke="#333" stroke-width="1"/>
<line x1="306.52" y1="240.5" x2="306.52" y2="245.5" stroke="#333" stroke-width="1"/>
<text x="306.52" y="265" text-anchor="middle" style="font-family:'Liberation Sans',Arial,Helvetica,sans-serif;font-size:15px">1900</text>
<text x="169.5" y="288.4" text-anchor="middle" style="font-family:'Liberation Sans',Arial,Helvetica,sans-serif;font-size:15px">Wavenumber (cm<tspan dy="-5" style="font-size:10px">−1</tspan><tspan dy="5">)</tspan></text>
<text transform="translate(13,123.8) rotate(-90)" text-anchor="middle" style="font-family:'Liberation Sans',Arial,Helvetica,sans-serif;font-size:15.3px">KM intensity (a.u.)</text>
<text x="30.5" y="145.9" style="font-family:'Liberation Sans',Arial,Helvetica,sans-serif;font-size:11px">473 K</text>
<text x="30.5" y="168.1" style="font-family:'Liberation Sans',Arial,Helvetica,sans-serif;font-size:11px">423 K</text>
<text x="30.5" y="189.8" style="font-family:'Liberation Sans',Arial,Helvetica,sans-serif;font-size:11px">373 K</text>
<text x="30.5" y="211.0" style="font-family:'Liberation Sans',Arial,Helvetica,sans-serif;font-size:11px">323 K</text>
<text x="30.5" y="232.7" style="font-family:'Liberation Sans',Arial,Helvetica,sans-serif;font-size:11px">300 K</text>
<text x="142.6" y="21.9" style="font-family:'Liberation Sans',Arial,Helvetica,sans-serif;font-size:11.5px">2100 cm<tspan dy="-3.8" style="font-size:7.6px">−1</tspan></text>
<text x="106.3" y="73.8" style="font-family:'Liberation Sans',Arial,Helvetica,sans-serif;font-size:11.5px">2110 cm<tspan dy="-3.8" style="font-size:7.6px">−1</tspan></text>
<text x="-1.2" y="13.2" style="font-family:'Liberation Sans',Arial,Helvetica,sans-serif;font-size:19px;font-weight:bold">a</text>
</g>
<g id="pb">
<line x1="521.8" y1="27" x2="521.8" y2="241" stroke="#333" stroke-width="1.7" stroke-dasharray="3.5 3.5 1 3.2 1 4" stroke-dashoffset="0"/>
<path d="M373.00,231.40 L373.25,231.41 L373.50,231.42 L373.75,231.43 L374.00,231.44 L374.25,231.45 L374.50,231.46 L374.75,231.47 L375.00,231.48 L375.25,231.49 L375.50,231.50 L375.75,231.51 L376.00,231.51 L376.25,231.52 L376.50,231.53 L376.75,231.54 L377.00,231.55 L377.25,231.56 L377.50,231.57 L377.75,231.58 L378.00,231.59 L378.25,231.60 L378.50,231.60 L378.75,231.61 L379.00,231.62 L379.25,231.63 L379.50,231.64 L379.75,231.65 L380.00,231.65 L380.25,231.66 L380.50,231.67 L380.75,231.68 L381.00,231.69 L381.25,231.69 L381.50,231.70 L381.75,231.71 L382.00,231.72 L382.25,231.72 L382.50,231.73 L382.75,231.74 L383.00,231.75 L383.25,231.75 L383.50,231.76 L383.75,231.77 L384.00,231.77 L384.25,231.78 L384.50,231.79 L384.75,231.79 L385.00,231.80 L385.25,231.81 L385.50,231.81 L385.75,231.82 L386.00,231.83 L386.25,231.83 L386.50,231.84 L386.75,231.84 L387.00,231.85 L387.25,231.86 L387.50,231.86 L387.75,231.87 L388.00,231.88 L388.25,231.88 L388.50,231.89 L388.75,231.90 L389.00,231.90 L389.25,231.91 L389.50,231.92 L389.75,231.92 L390.00,231.93 L390.25,231.93 L390.50,231.94 L390.75,231.95 L391.00,231.95 L391.25,231.96 L391.50,231.96 L391.75,231.97 L392.00,231.98 L392.25,231.98 L392.50,231.99 L392.75,231.99 L393.00,232.00 L393.25,232.00 L393.50,232.01 L393.75,232.01 L394.00,232.02 L394.25,232.02 L394.50,232.03 L394.75,232.03 L395.00,232.04 L395.25,232.04 L395.50,232.05 L395.75,232.05 L396.00,232.06 L396.25,232.06 L396.50,232.06 L396.75,232.07 L397.00,232.07 L397.25,232.07 L397.50,232.08 L397.75,232.08 L398.00,232.08 L398.25,232.09 L398.50,232.09 L398.75,232.09 L399.00,232.09 L399.25,232.10 L399.50,232.10 L399.75,232.10 L400.00,232.10 L400.25,232.10 L400.50,232.10 L400.75,232.10 L401.00,232.10 L401.25,232.11 L401.50,232.11 L401.75,232.11 L402.00,232.11 L402.25,232.11 L402.50,232.11 L402.75,232.11 L403.00,232.11 L403.25,232.12 L403.50,232.12 L403.75,232.12 L404.00,232.12 L404.25,232.12 L404.50,232.12 L404.75,232.12 L405.00,232.12 L405.25,232.12 L405.50,232.13 L405.75,232.13 L406.00,232.13 L406.25,232.13 L406.50,232.13 L406.75,232.13 L407.00,232.13 L407.25,232.13 L407.50,232.13 L407.75,232.14 L408.00,232.14 L408.25,232.14 L408.50,232.14 L408.75,232.14 L409.00,232.14 L409.25,232.14 L409.50,232.14 L409.75,232.14 L410.00,232.14 L410.25,232.14 L410.50,232.15 L410.75,232.15 L411.00,232.15 L411.25,232.15 L411.50,232.15 L411.75,232.15 L412.00,232.15 L412.25,232.15 L412.50,232.15 L412.75,232.15 L413.00,232.15 L413.25,232.16 L413.50,232.16 L413.75,232.16 L414.00,232.16 L414.25,232.16 L414.50,232.16 L414.75,232.16 L415.00,232.16 L415.25,232.16 L415.50,232.16 L415.75,232.16 L416.00,232.16 L416.25,232.16 L416.50,232.17 L416.75,232.17 L417.00,232.17 L417.25,232.17 L417.50,232.17 L417.75,232.17 L418.00,232.17 L418.25,232.17 L418.50,232.17 L418.75,232.17 L419.00,232.17 L419.25,232.17 L419.50,232.17 L419.75,232.17 L420.00,232.18 L420.25,232.18 L420.50,232.18 L420.75,232.18 L421.00,232.18 L421.25,232.18 L421.50,232.18 L421.75,232.18 L422.00,232.18 L422.25,232.18 L422.50,232.18 L422.75,232.18 L423.00,232.18 L423.25,232.18 L423.50,232.18 L423.75,232.18 L424.00,232.18 L424.25,232.18 L424.50,232.19 L424.75,232.19 L425.00,232.19 L425.25,232.19 L425.50,232.19 L425.75,232.19 L426.00,232.19 L426.25,232.19 L426.50,232.19 L426.75,232.19 L427.00,232.19 L427.25,232.19 L427.50,232.19 L427.75,232.19 L428.00,232.19 L428.25,232.19 L428.50,232.19 L428.75,232.19 L429.00,232.19 L429.25,232.19 L429.50,232.19 L429.75,232.19 L430.00,232.19 L430.25,232.19 L430.50,232.19 L430.75,232.19 L431.00,232.19 L431.25,232.20 L431.50,232.20 L431.75,232.20 L432.00,232.20 L432.25,232.20 L432.50,232.20 L432.75,232.20 L433.00,232.20 L433.25,232.20 L433.50,232.20 L433.75,232.20 L434.00,232.20 L434.25,232.20 L434.50,232.20 L434.75,232.20 L435.00,232.20 L435.25,232.20 L435.50,232.20 L435.75,232.20 L436.00,232.20 L436.25,232.20 L436.50,232.20 L436.75,232.20 L437.00,232.20 L437.25,232.20 L437.50,232.20 L437.75,232.20 L438.00,232.20 L438.25,232.20 L438.50,232.20 L438.75,232.20 L439.00,232.20 L439.25,232.20 L439.50,232.20 L439.75,232.20 L440.00,232.20 L440.25,232.20 L440.50,232.20 L440.75,232.20 L441.00,232.20 L441.25,232.20 L441.50,232.20 L441.75,232.20 L442.00,232.20 L442.25,232.20 L442.50,232.20 L442.75,232.20 L443.00,232.20 L443.25,232.20 L443.50,232.20 L443.75,232.19 L444.00,232.19 L444.25,232.19 L444.50,232.19 L444.75,232.19 L445.00,232.19 L445.25,232.19 L445.50,232.19 L445.75,232.19 L446.00,232.19 L446.25,232.18 L446.50,232.18 L446.75,232.18 L447.00,232.18 L447.25,232.18 L447.50,232.18 L447.75,232.18 L448.00,232.17 L448.25,232.17 L448.50,232.17 L448.75,232.17 L449.00,232.17 L449.25,232.17 L449.50,232.16 L449.75,232.16 L450.00,232.16 L450.25,232.16 L450.50,232.16 L450.75,232.15 L451.00,232.15 L451.25,232.15 L451.50,232.15 L451.75,232.14 L452.00,232.14 L452.25,232.14 L452.50,232.14 L452.75,232.13 L453.00,232.13 L453.25,232.13 L453.50,232.13 L453.75,232.12 L454.00,232.12 L454.25,232.12 L454.50,232.11 L454.75,232.11 L455.00,232.11 L455.25,232.10 L455.50,232.10 L455.75,232.10 L456.00,232.10 L456.25,232.09 L456.50,232.09 L456.75,232.08 L457.00,232.08 L457.25,232.08 L457.50,232.07 L457.75,232.07 L458.00,232.07 L458.25,232.06 L458.50,232.06 L458.75,232.06 L459.00,232.05 L459.25,232.05 L459.50,232.04 L459.75,232.04 L460.00,232.04 L460.25,232.03 L460.50,232.03 L460.75,232.02 L461.00,232.02 L461.25,232.01 L461.50,232.01 L461.75,232.00 L462.00,232.00 L462.25,231.99 L462.50,231.99 L462.75,231.98 L463.00,231.97 L463.25,231.95 L463.50,231.94 L463.75,231.93 L464.00,231.91 L464.25,231.89 L464.50,231.87 L464.75,231.85 L465.00,231.83 L465.25,231.81 L465.50,231.79 L465.75,231.77 L466.00,231.75 L466.25,231.72 L466.50,231.70 L466.75,231.68 L467.00,231.65 L467.25,231.63 L467.50,231.60 L467.75,231.58 L468.00,231.56 L468.25,231.54 L468.50,231.51 L468.75,231.49 L469.00,231.47 L469.25,231.45 L469.50,231.43 L469.75,231.42 L470.00,231.40 L470.25,231.38 L470.50,231.37 L470.75,231.35 L471.00,231.33 L471.25,231.31 L471.50,231.30 L471.75,231.28 L472.00,231.26 L472.25,231.24 L472.50,231.22 L472.75,231.20 L473.00,231.19 L473.25,231.17 L473.50,231.15 L473.75,231.13 L474.00,231.11 L474.25,231.10 L474.50,231.08 L474.75,231.06 L475.00,231.05 L475.25,231.03 L475.50,231.01 L475.75,231.00 L476.00,230.99 L476.25,230.97 L476.50,230.96 L476.75,230.95 L477.00,230.94 L477.25,230.93 L477.50,230.92 L477.75,230.92 L478.00,230.91 L478.25,230.91 L478.50,230.90 L478.75,230.90 L479.00,230.90 L479.25,230.90 L479.50,230.91 L479.75,230.92 L480.00,230.93 L480.25,230.95 L480.50,230.97 L480.75,230.99 L481.00,231.02 L481.25,231.05 L481.50,231.08 L481.75,231.11 L482.00,231.14 L482.25,231.18 L482.50,231.22 L482.75,231.25 L483.00,231.29 L483.25,231.33 L483.50,231.37 L483.75,231.41 L484.00,231.45 L484.25,231.49 L484.50,231.53 L484.75,231.56 L485.00,231.60 L485.25,231.64 L485.50,231.68 L485.75,231.73 L486.00,231.79 L486.25,231.84 L486.50,231.90 L486.75,231.96 L487.00,232.02 L487.25,232.07 L487.50,232.12 L487.75,232.17 L488.00,232.21 L488.25,232.25 L488.50,232.27 L488.75,232.29 L489.00,232.30 L489.25,232.30 L489.50,232.31 L489.75,232.31 L490.00,232.31 L490.25,232.31 L490.50,232.31 L490.75,232.32 L491.00,232.32 L491.25,232.32 L491.50,232.32 L491.75,232.32 L492.00,232.33 L492.25,232.33 L492.50,232.33 L492.75,232.33 L493.00,232.33 L493.25,232.33 L493.50,232.33 L493.75,232.34 L494.00,232.34 L494.25,232.34 L494.50,232.34 L494.75,232.34 L495.00,232.34 L495.25,232.34 L495.50,232.34 L495.75,232.34 L496.00,232.34 L496.25,232.35 L496.50,232.35 L496.75,232.35 L497.00,232.35 L497.25,232.35 L497.50,232.35 L497.75,232.35 L498.00,232.35 L498.25,232.35 L498.50,232.35 L498.75,232.35 L499.00,232.35 L499.25,232.35 L499.50,232.35 L499.75,232.35 L500.00,232.35 L500.25,232.35 L500.50,232.35 L500.75,232.35 L501.00,232.34 L501.25,232.34 L501.50,232.33 L501.75,232.33 L502.00,232.32 L502.25,232.32 L502.50,232.31 L502.75,232.30 L503.00,232.29 L503.25,232.27 L503.50,232.26 L503.75,232.25 L504.00,232.23 L504.25,232.22 L504.50,232.20 L504.75,232.16 L505.00,232.09 L505.25,231.98 L505.50,231.84 L505.75,231.69 L506.00,231.52 L506.25,231.34 L506.50,231.14 L506.75,230.89 L507.00,230.59 L507.25,230.24 L507.50,229.85 L507.75,229.41 L508.00,228.92 L508.25,228.39 L508.50,227.73 L508.75,226.94 L509.00,226.00 L509.25,224.93 L509.50,223.73 L509.75,222.42 L510.00,221.00 L510.25,219.38 L510.50,217.45 L510.75,215.14 L511.00,212.41 L511.25,209.19 L511.50,204.50 L511.75,198.66 L512.00,192.50 L512.25,185.64 L512.50,178.09 L512.75,170.09 L513.00,161.86 L513.25,153.66 L513.50,145.71 L513.75,138.26 L514.00,131.53 L514.25,125.72 L514.50,120.61 L514.75,115.79 L515.00,110.90 L515.25,105.84 L515.50,100.79 L515.75,95.73 L516.00,90.68 L516.25,85.62 L516.50,80.56 L516.75,75.51 L517.00,70.26 L517.25,64.75 L517.50,59.68 L517.75,55.71 L518.00,52.48 L518.25,49.58 L518.50,46.96 L518.75,44.56 L519.00,42.34 L519.25,40.24 L519.50,38.20 L519.75,36.19 L520.00,34.24 L520.25,32.43 L520.50,30.84 L520.75,29.52 L521.00,28.42 L521.25,27.35 L521.50,26.45 L521.75,25.90 L522.00,25.84 L522.25,26.29 L522.50,27.11 L522.75,28.16 L523.00,29.30 L523.25,30.72 L523.50,32.60 L523.75,34.81 L524.00,37.21 L524.25,39.77 L524.50,42.73 L524.75,46.00 L525.00,49.45 L525.25,52.96 L525.50,56.40 L525.75,59.70 L526.00,62.95 L526.25,66.27 L526.50,69.81 L526.75,73.68 L527.00,78.12 L527.25,83.20 L527.50,88.53 L527.75,93.71 L528.00,98.77 L528.25,103.82 L528.50,108.88 L528.75,113.95 L529.00,119.07 L529.25,124.15 L529.50,129.10 L529.75,134.01 L530.00,139.02 L530.25,144.08 L530.50,149.17 L530.75,154.25 L531.00,159.28 L531.25,164.24 L531.50,169.08 L531.75,173.76 L532.00,178.27 L532.25,182.55 L532.50,186.58 L532.75,190.32 L533.00,193.73 L533.25,196.82 L533.50,199.69 L533.75,202.37 L534.00,204.83 L534.25,207.09 L534.50,209.14 L534.75,211.00 L535.00,212.78 L535.25,214.46 L535.50,216.04 L535.75,217.50 L536.00,218.82 L536.25,219.99 L536.50,221.00 L536.75,221.90 L537.00,222.74 L537.25,223.54 L537.50,224.29 L537.75,224.99 L538.00,225.65 L538.25,226.26 L538.50,226.83 L538.75,227.35 L539.00,227.82 L539.25,228.26 L539.50,228.65 L539.75,229.03 L540.00,229.38 L540.25,229.71 L540.50,230.01 L540.75,230.28 L541.00,230.52 L541.25,230.73 L541.50,230.90 L541.75,231.05 L542.00,231.19 L542.25,231.32 L542.50,231.44 L542.75,231.56 L543.00,231.66 L543.25,231.76 L543.50,231.85 L543.75,231.92 L544.00,231.99 L544.25,232.04 L544.50,232.09 L544.75,232.12 L545.00,232.15 L545.25,232.18 L545.50,232.20 L545.75,232.23 L546.00,232.25 L546.25,232.27 L546.50,232.29 L546.75,232.31 L547.00,232.32 L547.25,232.33 L547.50,232.34 L547.75,232.35 L548.00,232.35 L548.25,232.35 L548.50,232.35 L548.75,232.34 L549.00,232.34 L549.25,232.33 L549.50,232.32 L549.75,232.31 L550.00,232.29 L550.25,232.27 L550.50,232.25 L550.75,232.23 L551.00,232.20 L551.25,232.17 L551.50,232.13 L551.75,232.08 L552.00,231.73 L552.25,231.08 L552.50,230.31 L552.75,229.53 L553.00,228.64 L553.25,227.62 L553.50,226.48 L553.75,225.21 L554.00,223.82 L554.25,222.20 L554.50,220.36 L554.75,218.33 L555.00,216.15 L555.25,213.85 L555.50,211.45 L555.75,209.01 L556.00,206.54 L556.25,204.03 L556.50,201.42 L556.75,198.68 L557.00,195.77 L557.25,192.64 L557.50,189.25 L557.75,185.56 L558.00,181.52 L558.25,176.71 L558.50,170.10 L558.75,162.84 L559.00,156.30 L559.25,151.50 L559.50,147.58 L559.75,144.07 L560.00,140.59 L560.25,136.80 L560.50,132.50 L560.75,128.06 L561.00,123.91 L561.25,120.48 L561.50,117.63 L561.75,115.09 L562.00,112.77 L562.25,110.55 L562.50,108.35 L562.75,106.06 L563.00,103.58 L563.25,100.93 L563.50,98.19 L563.75,95.45 L564.00,92.79 L564.25,90.31 L564.50,88.10 L564.75,86.08 L565.00,84.13 L565.25,82.25 L565.50,80.44 L565.75,78.72 L566.00,77.08 L566.25,75.54 L566.50,74.09 L566.75,72.74 L567.00,71.50 L567.25,70.32 L567.50,69.17 L567.75,68.07 L568.00,67.02 L568.25,66.05 L568.50,65.16 L568.75,64.38 L569.00,63.73 L569.25,63.20 L569.50,62.73 L569.75,62.27 L570.00,61.87 L570.25,61.55 L570.50,61.35 L570.75,61.30 L571.00,61.42 L571.25,61.67 L571.50,62.03 L571.75,62.45 L572.00,62.92 L572.25,63.40 L572.50,63.92 L572.75,64.53 L573.00,65.23 L573.25,66.03 L573.50,66.91 L573.75,67.90 L574.00,68.99 L574.25,70.19 L574.50,71.50 L574.75,73.21 L575.00,75.49 L575.25,78.19 L575.50,81.11 L575.75,84.11 L576.00,87.01 L576.25,89.70 L576.50,92.37 L576.75,95.05 L577.00,97.78 L577.25,100.56 L577.50,103.43 L577.75,106.36 L578.00,109.30 L578.25,112.30 L578.50,115.47 L578.75,118.89 L579.00,122.71 L579.25,127.36 L579.50,132.30 L579.75,136.81 L580.00,140.49 L580.25,143.75 L580.50,146.79 L580.75,149.78 L581.00,152.89 L581.25,156.26 L581.50,159.86 L581.75,163.59 L582.00,167.35 L582.25,171.06 L582.50,174.63 L582.75,177.96 L583.00,180.98 L583.25,183.92 L583.50,186.80 L583.75,189.63 L584.00,192.39 L584.25,195.06 L584.50,197.63 L584.75,200.08 L585.00,202.41 L585.25,204.59 L585.50,206.62 L585.75,208.47 L586.00,210.16 L586.25,211.75 L586.50,213.28 L586.75,214.74 L587.00,216.13 L587.25,217.45 L587.50,218.71 L587.75,219.89 L588.00,221.00 L588.25,222.04 L588.50,223.01 L588.75,223.90 L589.00,224.72 L589.25,225.51 L589.50,226.27 L589.75,226.98 L590.00,227.65 L590.25,228.25 L590.50,228.78 L590.75,229.24 L591.00,229.60 L591.25,229.91 L591.50,230.21 L591.75,230.50 L592.00,230.77 L592.25,231.02 L592.50,231.26 L592.75,231.47 L593.00,231.66 L593.25,231.81 L593.50,231.94 L593.75,232.03 L594.00,232.09 L594.25,232.11 L594.50,232.13 L594.75,232.15 L595.00,232.17 L595.25,232.19 L595.50,232.21 L595.75,232.22 L596.00,232.24 L596.25,232.25 L596.50,232.27 L596.75,232.28 L597.00,232.29 L597.25,232.30 L597.50,232.31 L597.75,232.32 L598.00,232.32 L598.25,232.33 L598.50,232.33 L598.75,232.34 L599.00,232.34 L599.25,232.35 L599.50,232.35 L599.75,232.35 L600.00,232.35 L600.25,232.35 L600.50,232.35 L600.75,232.35 L601.00,232.35 L601.25,232.35 L601.50,232.35 L601.75,232.35 L602.00,232.35 L602.25,232.35 L602.50,232.35 L602.75,232.35 L603.00,232.35 L603.25,232.35 L603.50,232.35 L603.75,232.35 L604.00,232.35 L604.25,232.35 L604.50,232.35 L604.75,232.35 L605.00,232.35 L605.25,232.35 L605.50,232.35 L605.75,232.35 L606.00,232.35 L606.25,232.35 L606.50,232.35 L606.75,232.35 L607.00,232.35 L607.25,232.35 L607.50,232.35 L607.75,232.35 L608.00,232.35 L608.25,232.35 L608.50,232.35 L608.75,232.35 L609.00,232.35 L609.25,232.35 L609.50,232.35 L609.75,232.35 L610.00,232.35 L610.25,232.35 L610.50,232.35 L610.75,232.35 L611.00,232.35 L611.25,232.35 L611.50,232.35 L611.75,232.35 L612.00,232.35 L612.25,232.35 L612.50,232.35 L612.75,232.35 L613.00,232.35 L613.25,232.35 L613.50,232.35 L613.75,232.35 L614.00,232.35 L614.25,232.35 L614.50,232.35 L614.75,232.35 L615.00,232.35 L615.25,232.35 L615.50,232.35 L615.75,232.35 L616.00,232.35 L616.25,232.35 L616.50,232.35 L616.75,232.35 L617.00,232.35 L617.25,232.35 L617.50,232.35 L617.75,232.35 L618.00,232.35 L618.25,232.35 L618.50,232.35 L618.75,232.35 L619.00,232.35 L619.25,232.35 L619.50,232.35 L619.75,232.35 L620.00,232.35 L620.25,232.35 L620.50,232.35 L620.75,232.35 L621.00,232.35 L621.25,232.35 L621.50,232.35 L621.75,232.35 L622.00,232.35 L622.25,232.35 L622.50,232.35 L622.75,232.35 L623.00,232.35 L623.25,232.35 L623.50,232.35 L623.75,232.35 L624.00,232.35 L624.25,232.35 L624.50,232.35 L624.75,232.35 L625.00,232.35 L625.25,232.35 L625.50,232.35 L625.75,232.35 L626.00,232.35 L626.25,232.35 L626.50,232.35 L626.75,232.35 L627.00,232.35 L627.25,232.35 L627.50,232.35 L627.75,232.35 L628.00,232.35 L628.25,232.35 L628.50,232.35 L628.75,232.35 L629.00,232.35 L629.25,232.35 L629.50,232.35 L629.75,232.35 L630.00,232.35 L630.25,232.35 L630.50,232.35 L630.75,232.35 L631.00,232.35 L631.25,232.35 L631.50,232.35 L631.75,232.35 L632.00,232.35 L632.25,232.35 L632.50,232.35 L632.75,232.35 L633.00,232.35 L633.25,232.35 L633.50,232.35 L633.75,232.35 L634.00,232.35 L634.25,232.35 L634.50,232.35 L634.75,232.35 L635.00,232.35 L635.25,232.35 L635.50,232.35 L635.75,232.35 L636.00,232.35 L636.25,232.35 L636.50,232.35 L636.75,232.35 L637.00,232.35 L637.25,232.35 L637.50,232.35 L637.75,232.35 L638.00,232.35 L638.25,232.35 L638.50,232.35 L638.75,232.35 L639.00,232.35 L639.25,232.35 L639.50,232.35 L639.75,232.35 L640.00,232.35 L640.25,232.35 L640.50,232.35 L640.75,232.35 L641.00,232.35 L641.25,232.35 L641.50,232.35 L641.75,232.35 L642.00,232.35 L642.25,232.35 L642.50,232.35 L642.75,232.35 L643.00,232.35 L643.25,232.35 L643.50,232.35 L643.75,232.35 L644.00,232.35 L644.25,232.35 L644.50,232.35 L644.75,232.35 L645.00,232.35 L645.25,232.35 L645.50,232.35 L645.75,232.35 L646.00,232.35 L646.25,232.35 L646.50,232.35 L646.75,232.35 L647.00,232.35 L647.25,232.35 L647.50,232.35 L647.75,232.35 L648.00,232.35 L648.25,232.35 L648.50,232.35 L648.75,232.35 L649.00,232.35 L649.25,232.35 L649.50,232.35 L649.75,232.35 L650.00,232.35 L650.25,232.35 L650.50,232.35 L650.75,232.35 L651.00,232.35 L651.25,232.35 L651.50,232.35 L651.75,232.35 L652.00,232.35 L652.25,232.35 L652.50,232.35 L652.75,232.35 L653.00,232.35 L653.25,232.35 L653.50,232.35 L653.75,232.35 L654.00,232.35 L654.25,232.35 L654.50,232.35 L654.75,232.35 L655.00,232.35 L655.25,232.35 L655.50,232.35 L655.75,232.35 L656.00,232.35 L656.25,232.35 L656.50,232.35 L656.75,232.35 L657.00,232.35 L657.25,232.35 L657.50,232.35 L657.75,232.35 L658.00,232.35 L658.25,232.35 L658.50,232.35 L658.75,232.35 L659.00,232.35 L659.25,232.35 L659.50,232.35 L659.75,232.35 L660.00,232.35 L660.25,232.35 L660.50,232.35 L660.75,232.35 L661.00,232.35 L661.25,232.35 L661.50,232.35 L661.75,232.35 L662.00,232.35 L662.25,232.35 L662.50,232.35 L662.75,232.35 L663.00,232.35 L663.25,232.35 L663.50,232.35 L663.75,232.35 L664.00,232.35 L664.25,232.35 L664.50,232.35 L664.75,232.35 L665.00,232.35 L665.25,232.35 L665.50,232.35 L665.75,232.35 L666.00,232.35 L666.25,232.35 L666.50,232.35 L666.75,232.35 L667.00,232.35 L667.25,232.35 L667.50,232.35 L667.75,232.35 L668.00,232.35 L668.25,232.35 L668.50,232.35 L668.75,232.35 L669.00,232.35 L669.25,232.35 L669.50,232.35 L669.75,232.35 L670.00,232.35" fill="none" stroke="#e8222a" stroke-width="1.45"/>
<rect x="372.5" y="8" width="298" height="233.5" fill="none" stroke="#333" stroke-width="1"/>
<line x1="379.40" y1="241.5" x2="379.40" y2="246.5" stroke="#333" stroke-width="1"/>
<text x="379.40" y="265" text-anchor="middle" style="font-family:'Liberation Sans',Arial,Helvetica,sans-serif;font-size:15px">2300</text>
<line x1="414.88" y1="241.5" x2="414.88" y2="244.5" stroke="#333" stroke-width="1"/>
<line x1="450.35" y1="241.5" x2="450.35" y2="246.5" stroke="#333" stroke-width="1"/>
<text x="450.35" y="265" text-anchor="middle" style="font-family:'Liberation Sans',Arial,Helvetica,sans-serif;font-size:15px">2200</text>
<line x1="485.82" y1="241.5" x2="485.82" y2="244.5" stroke="#333" stroke-width="1"/>
<line x1="521.30" y1="241.5" x2="521.30" y2="246.5" stroke="#333" stroke-width="1"/>
<text x="521.30" y="265" text-anchor="middle" style="font-family:'Liberation Sans',Arial,Helvetica,sans-serif;font-size:15px">2100</text>
<line x1="556.77" y1="241.5" x2="556.77" y2="244.5" stroke="#333" stroke-width="1"/>
<line x1="592.25" y1="241.5" x2="592.25" y2="246.5" stroke="#333" stroke-width="1"/>
<text x="592.25" y="265" text-anchor="middle" style="font-family:'Liberation Sans',Arial,Helvetica,sans-serif;font-size:15px">2000</text>
<line x1="627.73" y1="241.5" x2="627.73" y2="244.5" stroke="#333" stroke-width="1"/>
<line x1="663.20" y1="241.5" x2="663.20" y2="246.5" stroke="#333" stroke-width="1"/>
<text x="663.20" y="265" text-anchor="middle" style="font-family:'Liberation Sans',Arial,Helvetica,sans-serif;font-size:15px">1900</text>
<text x="521" y="288.4" text-anchor="middle" style="font-family:'Liberation Sans',Arial,Helvetica,sans-serif;font-size:15px">Wavenumber (cm<tspan dy="-5" style="font-size:10px">−1</tspan><tspan dy="5">)</tspan></text>
<text transform="translate(361,126.3) rotate(-90)" text-anchor="middle" style="font-family:'Liberation Sans',Arial,Helvetica,sans-serif;font-size:15.3px">KM intensity (a.u.)</text>
<text x="490.6" y="21.8" style="font-family:'Liberation Sans',Arial,Helvetica,sans-serif;font-size:11.5px">2100 cm<tspan dy="-3.8" style="font-size:7.6px">−1</tspan></text>
<text x="348" y="13.9" style="font-family:'Liberation Sans',Arial,Helvetica,sans-serif;font-size:19px;font-weight:bold">b</text>
</g>
<g id="pc">
<line x1="185.6" y1="351" x2="185.6" y2="558" stroke="#2a2a2a" stroke-width="1.7" stroke-dasharray="3.8 3.6 1 3.5 1 4.1"/>
<line x1="195.9" y1="351" x2="195.9" y2="558" stroke="#2a2a2a" stroke-width="1.7" stroke-dasharray="3.8 3.6 1 3.5 1 4.1"/>
<line x1="206.1" y1="351" x2="206.1" y2="558" stroke="#2a2a2a" stroke-width="1.7" stroke-dasharray="3.8 3.6 1 3.5 1 4.1"/>
<path d="M24.50,526.74 L28.64,524.84 L32.79,522.61 L36.93,519.98 L41.07,516.87 L45.22,513.15 L49.36,508.71 L53.50,503.38 L57.64,496.98 L61.79,489.31 L65.93,480.15 L70.07,469.32 L74.22,456.73 L78.36,442.50 L82.50,427.13 L86.65,411.78 L90.79,398.27 L94.93,388.90 L99.07,385.60 L103.22,390.06 L107.36,401.23 L111.50,415.98 L115.65,431.35 L119.79,445.37 L123.93,457.04 L128.08,465.93 L132.22,471.93 L136.36,475.06 L140.50,475.39 L144.65,472.93 L148.79,467.69 L152.93,459.64 L157.08,448.74 L161.22,435.01 L165.36,418.68 L169.51,400.38 L173.65,381.44 L177.79,364.11 L181.93,351.43 L186.08,346.37 L190.22,351.54 L194.36,367.36 L198.51,389.57 L202.65,413.66 L206.79,436.56 L210.94,456.77 L215.08,473.85 L219.22,487.90 L223.36,499.26 L227.51,508.35 L231.65,515.59 L235.79,521.38 L239.94,526.03 L244.08,529.81 L248.22,532.93 L252.37,535.55 L256.51,537.77 L260.65,539.69 L264.79,541.36 L268.94,542.84 L273.08,544.15 L277.22,545.32 L281.37,546.37 L285.51,547.33 L289.65,548.20 L293.80,549.00 L297.94,549.74 L302.08,550.42 L306.22,551.05 L310.37,551.63 L314.51,552.18" fill="none" stroke="#e8222a" stroke-width="1.55" stroke-linejoin="round"/>
<path d="M24.50,529.53 L28.64,528.21 L32.79,526.71 L36.93,524.98 L41.07,523.00 L45.22,520.72 L49.36,518.08 L53.50,515.01 L57.64,511.43 L61.79,507.24 L65.93,502.30 L70.07,496.43 L74.22,489.45 L78.36,481.12 L82.50,471.20 L86.65,459.52 L90.79,446.12 L94.93,431.39 L99.07,416.42 L103.22,403.04 L107.36,393.56 L111.50,389.94 L115.65,392.98 L119.79,401.73 L123.93,414.16 L128.08,428.10 L132.22,441.73 L136.36,453.71 L140.50,463.17 L144.65,469.63 L148.79,472.89 L152.93,472.96 L157.08,469.96 L161.22,463.99 L165.36,455.14 L169.51,443.45 L173.65,429.03 L177.79,412.20 L181.93,393.82 L186.08,375.49 L190.22,359.70 L194.36,349.41 L198.51,347.06 L202.65,355.19 L206.79,372.41 L210.94,394.37 L215.08,417.03 L219.22,437.91 L223.36,455.95 L227.51,471.05 L231.65,483.51 L235.79,493.77 L239.94,502.26 L244.08,509.33 L248.22,515.28 L252.37,520.31 L256.51,524.61 L260.65,528.30 L264.79,531.49 L268.94,534.26 L273.08,536.68 L277.22,538.80 L281.37,540.68 L285.51,542.35 L289.65,543.84 L293.80,545.18 L297.94,546.40 L302.08,547.50 L306.22,548.50 L310.37,549.42 L314.51,550.27" fill="none" stroke="#fbbf2b" stroke-width="1.55" stroke-linejoin="round"/>
<path d="M24.50,531.56 L28.64,530.55 L32.79,529.39 L36.93,528.06 L41.07,526.54 L45.22,524.77 L49.36,522.71 L53.50,520.31 L57.64,517.47 L61.79,514.12 L65.93,510.12 L70.07,505.36 L74.22,499.68 L78.36,492.91 L82.50,484.86 L86.65,475.37 L90.79,464.30 L94.93,451.63 L99.07,437.55 L103.22,422.61 L107.36,407.96 L111.50,395.41 L115.65,387.12 L119.79,384.66 L123.93,387.84 L128.08,395.80 L132.22,407.22 L136.36,420.58 L140.50,434.38 L144.65,447.33 L148.79,458.33 L152.93,466.60 L157.08,471.64 L161.22,473.22 L165.36,471.29 L169.51,465.93 L173.65,457.25 L177.79,445.43 L181.93,430.71 L186.08,413.58 L190.22,394.97 L194.36,376.49 L198.51,360.53 L202.65,349.87 L206.79,346.83 L210.94,353.25 L215.08,368.17 L219.22,388.15 L223.36,409.72 L227.51,430.44 L231.65,449.01 L235.79,465.03 L239.94,478.54 L244.08,489.81 L248.22,499.16 L252.37,506.92 L256.51,513.38 L260.65,518.78 L264.79,523.33 L268.94,527.18 L273.08,530.46 L277.22,533.29 L281.37,535.75 L285.51,537.89 L289.65,539.78 L293.80,541.46 L297.94,542.95 L302.08,544.29 L306.22,545.49 L310.37,546.59 L314.51,547.58" fill="none" stroke="#5f86b8" stroke-width="1.55" stroke-linejoin="round"/>
<path d="M24.50,531.72 L28.64,530.73 L32.79,529.60 L36.93,528.30 L41.07,526.81 L45.22,525.09 L49.36,523.08 L53.50,520.74 L57.64,517.98 L61.79,514.72 L65.93,510.85 L70.07,506.23 L74.22,500.71 L78.36,494.14 L82.50,486.32 L86.65,477.08 L90.79,466.29 L94.93,453.92 L99.07,440.15 L103.22,425.52 L107.36,411.12 L111.50,398.61 L115.65,389.94 L119.79,386.66 L123.93,388.73 L128.08,395.47 L132.22,405.87 L136.36,418.61 L140.50,432.22 L144.65,445.29 L148.79,456.65 L152.93,465.42 L157.08,471.03 L161.22,473.20 L165.36,471.86 L169.51,467.07 L173.65,458.95 L177.79,447.64 L181.93,433.38 L186.08,416.61 L190.22,398.15 L194.36,379.51 L198.51,362.93 L202.65,351.18 L206.79,346.74 L210.94,351.49 L215.08,365.19 L219.22,384.58 L223.36,406.09 L227.51,427.06 L231.65,446.05 L235.79,462.51 L239.94,476.43 L244.08,488.05 L248.22,497.70 L252.37,505.71 L256.51,512.37 L260.65,517.94 L264.79,522.61 L268.94,526.57 L273.08,529.94 L277.22,532.84 L281.37,535.36 L285.51,537.55 L289.65,539.48 L293.80,541.19 L297.94,542.71 L302.08,544.07 L306.22,545.30 L310.37,546.41 L314.51,547.42" fill="none" stroke="#44bb6c" stroke-width="1.55" stroke-linejoin="round"/>
<rect x="24.5" y="326" width="290" height="232.5" fill="none" stroke="#333" stroke-width="1"/>
<line x1="24.50" y1="558.5" x2="24.50" y2="563.5" stroke="#333" stroke-width="1"/>
<text x="24.50" y="582" text-anchor="middle" style="font-family:'Liberation Sans',Arial,Helvetica,sans-serif;font-size:15px">40</text>
<line x1="45.22" y1="558.5" x2="45.22" y2="561.5" stroke="#333" stroke-width="1"/>
<line x1="65.93" y1="558.5" x2="65.93" y2="563.5" stroke="#333" stroke-width="1"/>
<text x="65.93" y="582" text-anchor="middle" style="font-family:'Liberation Sans',Arial,Helvetica,sans-serif;font-size:15px">39</text>
<line x1="86.64" y1="558.5" x2="86.64" y2="561.5" stroke="#333" stroke-width="1"/>
<line x1="107.36" y1="558.5" x2="107.36" y2="563.5" stroke="#333" stroke-width="1"/>
<text x="107.36" y="582" text-anchor="middle" style="font-family:'Liberation Sans',Arial,Helvetica,sans-serif;font-size:15px">38</text>
<line x1="128.07" y1="558.5" x2="128.07" y2="561.5" stroke="#333" stroke-width="1"/>
<line x1="148.79" y1="558.5" x2="148.79" y2="563.5" stroke="#333" stroke-width="1"/>
<text x="148.79" y="582" text-anchor="middle" style="font-family:'Liberation Sans',Arial,Helvetica,sans-serif;font-size:15px">37</text>
<line x1="169.50" y1="558.5" x2="169.50" y2="561.5" stroke="#333" stroke-width="1"/>
<line x1="190.22" y1="558.5" x2="190.22" y2="563.5" stroke="#333" stroke-width="1"/>
<text x="190.22" y="582" text-anchor="middle" style="font-family:'Liberation Sans',Arial,Helvetica,sans-serif;font-size:15px">36</text>
<line x1="210.94" y1="558.5" x2="210.94" y2="561.5" stroke="#333" stroke-width="1"/>
<line x1="231.65" y1="558.5" x2="231.65" y2="563.5" stroke="#333" stroke-width="1"/>
<text x="231.65" y="582" text-anchor="middle" style="font-family:'Liberation Sans',Arial,Helvetica,sans-serif;font-size:15px">35</text>
<line x1="252.37" y1="558.5" x2="252.37" y2="561.5" stroke="#333" stroke-width="1"/>
<line x1="273.08" y1="558.5" x2="273.08" y2="563.5" stroke="#333" stroke-width="1"/>
<text x="273.08" y="582" text-anchor="middle" style="font-family:'Liberation Sans',Arial,Helvetica,sans-serif;font-size:15px">34</text>
<line x1="293.80" y1="558.5" x2="293.80" y2="561.5" stroke="#333" stroke-width="1"/>
<line x1="314.51" y1="558.5" x2="314.51" y2="563.5" stroke="#333" stroke-width="1"/>
<text x="314.51" y="582" text-anchor="middle" style="font-family:'Liberation Sans',Arial,Helvetica,sans-serif;font-size:15px">33</text>
<text x="169.5" y="601" text-anchor="middle" style="font-family:'Liberation Sans',Arial,Helvetica,sans-serif;font-size:15px">Binding energy (eV)</text>
<text transform="translate(12.3,444) rotate(-90)" text-anchor="middle" style="font-family:'Liberation Sans',Arial,Helvetica,sans-serif;font-size:15.3px">Intensity (a.u.)</text>
<line x1="28.3" y1="334.3" x2="52.7" y2="334.3" stroke="#e8222a" stroke-width="1.3"/>
<text x="62.8" y="338.2" style="font-family:'Liberation Sans',Arial,Helvetica,sans-serif;font-size:11.1px">Air/300 K</text>
<line x1="28.3" y1="347.9" x2="52.7" y2="347.9" stroke="#6a8dbb" stroke-width="1.9"/>
<text x="62.8" y="351.8" style="font-family:'Liberation Sans',Arial,Helvetica,sans-serif;font-size:11.1px">CO/423 K</text>
<line x1="28.3" y1="361.4" x2="52.7" y2="361.4" stroke="#fbbf2b" stroke-width="1.4"/>
<text x="62.8" y="365.3" style="font-family:'Liberation Sans',Arial,Helvetica,sans-serif;font-size:11.1px">O<tspan dy="3" style="font-size:8px">2</tspan><tspan dy="-3">/423 K</tspan></text>
<line x1="28.3" y1="377.2" x2="52.7" y2="377.2" stroke="#44bb6c" stroke-width="1.4"/>
<text x="62.8" y="381.1" style="font-family:'Liberation Sans',Arial,Helvetica,sans-serif;font-size:11.1px">O<tspan dy="3" style="font-size:8px">2</tspan><tspan dy="-3">/CO/423 K</tspan></text>
<text x="162.3" y="346.8" style="font-family:'Liberation Sans',Arial,Helvetica,sans-serif;font-size:10.6px">36.1</text>
<text x="184.6" y="338.9" style="font-family:'Liberation Sans',Arial,Helvetica,sans-serif;font-size:10.6px">35.9</text>
<text x="209.6" y="346.8" style="font-family:'Liberation Sans',Arial,Helvetica,sans-serif;font-size:10.6px">35.6</text>
<text x="-1" y="326.8" style="font-family:'Liberation Sans',Arial,Helvetica,sans-serif;font-size:19px;font-weight:bold">c</text>
</g>
<g id="pd">
<text x="343" y="326.8" style="font-family:'Liberation Sans',Arial,Helvetica,sans-serif;font-size:18.5px;font-weight:bold">d</text>
<circle cx="482.7" cy="372.9" r="7.6" fill="url(#gW)"/><circle cx="539.7" cy="372.9" r="7.6" fill="url(#gW)"/><circle cx="511.2" cy="361.4" r="5.0" fill="url(#gO)"/><polygon points="472.7,356.4 502.7,360.4 502.4,372.0 490.5,383.7" fill="#a6a59f" fill-opacity="0.90"/><polygon points="549.7,355.4 519.7,360.4 520.0,372.0 532.7,382.9" fill="#a6a59f" fill-opacity="0.90"/><polygon points="502.7,360.4 502.4,372.0 490.5,383.7 492.2,368.9" fill="#8f8e89" fill-opacity="0.50"/><polygon points="519.7,360.4 520.0,372.0 532.7,382.9 530.2,368.9" fill="#8f8e89" fill-opacity="0.50"/><circle cx="486.2" cy="409.7" r="10.4" fill="url(#gW)"/><circle cx="538.2" cy="408.9" r="10.4" fill="url(#gW)"/><polygon points="470.2,399.9 490.5,383.9 512.0,397.9 500.2,402.9 477.2,403.9" fill="#868580" fill-opacity="0.95"/><polygon points="554.2,398.4 532.7,382.9 512.0,397.9 523.2,402.4 546.2,403.4" fill="#868580" fill-opacity="0.95"/><polygon points="470.2,399.9 477.2,403.9 500.2,402.9 512.0,397.9 491.2,396.9" fill="#6f6e6a" fill-opacity="0.90"/><polygon points="554.2,398.4 546.2,403.4 523.2,402.4 512.0,397.9 532.2,396.4" fill="#6f6e6a" fill-opacity="0.90"/><line x1="512.0" y1="397.9" x2="500.1" y2="402.1" stroke="#e81010" stroke-width="2.6"/><line x1="500.1" y1="402.1" x2="488.2" y2="406.4" stroke="#d8d8d8" stroke-width="2.6"/><line x1="512.0" y1="397.9" x2="524.1" y2="401.9" stroke="#e81010" stroke-width="2.6"/><line x1="524.1" y1="401.9" x2="536.2" y2="405.9" stroke="#d8d8d8" stroke-width="2.6"/><line x1="511.2" y1="366.9" x2="500.8" y2="375.4" stroke="#1a1e8e" stroke-width="2.6"/><line x1="500.8" y1="375.4" x2="490.4" y2="383.9" stroke="#e81010" stroke-width="2.6"/><line x1="511.2" y1="366.9" x2="522.0" y2="374.9" stroke="#1a1e8e" stroke-width="2.6"/><line x1="522.0" y1="374.9" x2="532.7" y2="382.9" stroke="#e81010" stroke-width="2.6"/><line x1="511.2" y1="366.9" x2="511.6" y2="382.4" stroke="#1a1e8e" stroke-width="2.6"/><line x1="511.6" y1="382.4" x2="512.0" y2="397.9" stroke="#e81010" stroke-width="2.6"/><line x1="511.2" y1="366.9" x2="500.4" y2="359.9" stroke="#1a1e8e" stroke-width="2.6"/><line x1="500.4" y1="359.9" x2="489.5" y2="352.9" stroke="#111" stroke-width="2.6"/><line x1="489.5" y1="352.9" x2="482.5" y2="349.0" stroke="#111" stroke-width="2.6"/><line x1="482.5" y1="349.0" x2="475.6" y2="345.1" stroke="#e81010" stroke-width="2.6"/><line x1="511.2" y1="366.9" x2="522.0" y2="359.4" stroke="#1a1e8e" stroke-width="2.6"/><line x1="522.0" y1="359.4" x2="532.9" y2="351.9" stroke="#111" stroke-width="2.6"/><line x1="532.9" y1="351.9" x2="539.5" y2="347.4" stroke="#111" stroke-width="2.6"/><line x1="539.5" y1="347.4" x2="546.2" y2="342.9" stroke="#e81010" stroke-width="2.6"/><circle cx="472.3" cy="355.6" r="5.2" fill="url(#gOl)"/><circle cx="549.7" cy="354.4" r="5.2" fill="url(#gOl)"/><circle cx="475.6" cy="345.1" r="5.7" fill="url(#gO)"/><circle cx="546.2" cy="342.9" r="5.7" fill="url(#gO)"/><circle cx="489.5" cy="352.9" r="5.3" fill="url(#gC)"/><circle cx="532.9" cy="351.9" r="5.3" fill="url(#gC)"/><circle cx="511.2" cy="366.9" r="9.2" fill="url(#gB)"/><circle cx="490.4" cy="383.9" r="5.3" fill="url(#gO)"/><circle cx="532.7" cy="382.9" r="5.3" fill="url(#gO)"/><circle cx="470.2" cy="399.9" r="5.7" fill="url(#gO)"/><circle cx="554.2" cy="398.4" r="5.7" fill="url(#gO)"/><circle cx="512.0" cy="397.9" r="5.7" fill="url(#gO)"/>
<circle cx="364.2" cy="458.6" r="7.6" fill="url(#gW)"/><circle cx="421.2" cy="458.6" r="7.6" fill="url(#gW)"/><circle cx="392.7" cy="447.1" r="5.0" fill="url(#gO)"/><polygon points="354.2,442.1 384.2,446.1 383.9,457.7 372.0,469.4" fill="#a6a59f" fill-opacity="0.90"/><polygon points="431.2,441.1 401.2,446.1 401.5,457.7 414.2,468.6" fill="#a6a59f" fill-opacity="0.90"/><polygon points="384.2,446.1 383.9,457.7 372.0,469.4 373.7,454.6" fill="#8f8e89" fill-opacity="0.50"/><polygon points="401.2,446.1 401.5,457.7 414.2,468.6 411.7,454.6" fill="#8f8e89" fill-opacity="0.50"/><circle cx="367.7" cy="495.4" r="10.4" fill="url(#gW)"/><circle cx="419.7" cy="494.6" r="10.4" fill="url(#gW)"/><polygon points="351.7,485.6 372.0,469.6 393.5,483.6 381.7,488.6 358.7,489.6" fill="#868580" fill-opacity="0.95"/><polygon points="435.7,484.1 414.2,468.6 393.5,483.6 404.7,488.1 427.7,489.1" fill="#868580" fill-opacity="0.95"/><polygon points="351.7,485.6 358.7,489.6 381.7,488.6 393.5,483.6 372.7,482.6" fill="#6f6e6a" fill-opacity="0.90"/><polygon points="435.7,484.1 427.7,489.1 404.7,488.1 393.5,483.6 413.7,482.1" fill="#6f6e6a" fill-opacity="0.90"/><line x1="393.5" y1="483.6" x2="381.6" y2="487.9" stroke="#e81010" stroke-width="2.6"/><line x1="381.6" y1="487.9" x2="369.7" y2="492.1" stroke="#d8d8d8" stroke-width="2.6"/><line x1="393.5" y1="483.6" x2="405.6" y2="487.6" stroke="#e81010" stroke-width="2.6"/><line x1="405.6" y1="487.6" x2="417.7" y2="491.6" stroke="#d8d8d8" stroke-width="2.6"/><line x1="392.7" y1="452.6" x2="382.3" y2="461.1" stroke="#1a1e8e" stroke-width="2.6"/><line x1="382.3" y1="461.1" x2="371.9" y2="469.6" stroke="#e81010" stroke-width="2.6"/><line x1="392.7" y1="452.6" x2="403.4" y2="460.6" stroke="#1a1e8e" stroke-width="2.6"/><line x1="403.4" y1="460.6" x2="414.2" y2="468.6" stroke="#e81010" stroke-width="2.6"/><line x1="392.7" y1="452.6" x2="393.1" y2="468.1" stroke="#1a1e8e" stroke-width="2.6"/><line x1="393.1" y1="468.1" x2="393.5" y2="483.6" stroke="#e81010" stroke-width="2.6"/><line x1="392.7" y1="452.6" x2="381.9" y2="445.6" stroke="#1a1e8e" stroke-width="2.6"/><line x1="381.9" y1="445.6" x2="371.0" y2="438.6" stroke="#111" stroke-width="2.6"/><line x1="371.0" y1="438.6" x2="364.0" y2="434.7" stroke="#111" stroke-width="2.6"/><line x1="364.0" y1="434.7" x2="357.1" y2="430.8" stroke="#e81010" stroke-width="2.6"/><circle cx="353.8" cy="441.3" r="5.2" fill="url(#gOl)"/><circle cx="431.2" cy="440.1" r="5.2" fill="url(#gOl)"/><circle cx="357.1" cy="430.8" r="5.7" fill="url(#gO)"/><circle cx="371.0" cy="438.6" r="5.3" fill="url(#gC)"/><circle cx="392.7" cy="452.6" r="9.2" fill="url(#gB)"/><circle cx="371.9" cy="469.6" r="5.3" fill="url(#gO)"/><circle cx="414.2" cy="468.6" r="5.3" fill="url(#gO)"/><circle cx="351.7" cy="485.6" r="5.7" fill="url(#gO)"/><circle cx="435.7" cy="484.1" r="5.7" fill="url(#gO)"/><circle cx="393.5" cy="483.6" r="5.7" fill="url(#gO)"/>
<g filter="url(#glowR)"><circle cx="602.7" cy="458.6" r="7.6" fill="url(#gW)"/><circle cx="659.7" cy="458.6" r="7.6" fill="url(#gW)"/><circle cx="631.2" cy="447.1" r="5.0" fill="url(#gO)"/><polygon points="592.7,442.1 622.7,446.1 622.4,457.7 610.5,469.4" fill="#a6a59f" fill-opacity="0.90"/><polygon points="669.7,441.1 639.7,446.1 640.0,457.7 652.7,468.6" fill="#a6a59f" fill-opacity="0.90"/><polygon points="622.7,446.1 622.4,457.7 610.5,469.4 612.2,454.6" fill="#8f8e89" fill-opacity="0.50"/><polygon points="639.7,446.1 640.0,457.7 652.7,468.6 650.2,454.6" fill="#8f8e89" fill-opacity="0.50"/><line x1="610.4" y1="469.6" x2="608.3" y2="480.1" stroke="#e81010" stroke-width="2.6"/><line x1="608.3" y1="480.1" x2="606.2" y2="490.6" stroke="#cfcfcf" stroke-width="2.6"/><line x1="652.7" y1="468.6" x2="655.5" y2="479.1" stroke="#e81010" stroke-width="2.6"/><line x1="655.5" y1="479.1" x2="658.2" y2="489.6" stroke="#cfcfcf" stroke-width="2.6"/><circle cx="606.2" cy="494.2" r="10.4" fill="url(#gW)"/><circle cx="658.2" cy="492.6" r="10.4" fill="url(#gW)"/><line x1="590.2" y1="485.6" x2="595.7" y2="488.1" stroke="#e81010" stroke-width="2.6"/><line x1="595.7" y1="488.1" x2="601.2" y2="490.6" stroke="#cfcfcf" stroke-width="2.6"/><line x1="674.2" y1="483.6" x2="668.7" y2="486.1" stroke="#e81010" stroke-width="2.6"/><line x1="668.7" y1="486.1" x2="663.2" y2="488.6" stroke="#cfcfcf" stroke-width="2.6"/><line x1="631.2" y1="452.6" x2="620.8" y2="461.1" stroke="#1a1e8e" stroke-width="2.6"/><line x1="620.8" y1="461.1" x2="610.4" y2="469.6" stroke="#e81010" stroke-width="2.6"/><line x1="631.2" y1="452.6" x2="642.0" y2="460.6" stroke="#1a1e8e" stroke-width="2.6"/><line x1="642.0" y1="460.6" x2="652.7" y2="468.6" stroke="#e81010" stroke-width="2.6"/><line x1="631.2" y1="452.6" x2="620.4" y2="445.6" stroke="#1a1e8e" stroke-width="2.6"/><line x1="620.4" y1="445.6" x2="609.5" y2="438.6" stroke="#111" stroke-width="2.6"/><line x1="609.5" y1="438.6" x2="602.5" y2="434.7" stroke="#111" stroke-width="2.6"/><line x1="602.5" y1="434.7" x2="595.6" y2="430.8" stroke="#e81010" stroke-width="2.6"/><line x1="631.2" y1="452.6" x2="642.1" y2="445.1" stroke="#1a1e8e" stroke-width="2.6"/><line x1="642.1" y1="445.1" x2="652.9" y2="437.6" stroke="#111" stroke-width="2.6"/><line x1="652.9" y1="437.6" x2="659.6" y2="433.1" stroke="#111" stroke-width="2.6"/><line x1="659.6" y1="433.1" x2="666.2" y2="428.6" stroke="#e81010" stroke-width="2.6"/><circle cx="592.3" cy="441.3" r="5.2" fill="url(#gOl)"/><circle cx="669.7" cy="440.1" r="5.2" fill="url(#gOl)"/><circle cx="595.6" cy="430.8" r="5.7" fill="url(#gO)"/><circle cx="666.2" cy="428.6" r="5.7" fill="url(#gO)"/><circle cx="609.5" cy="438.6" r="5.3" fill="url(#gC)"/><circle cx="652.9" cy="437.6" r="5.3" fill="url(#gC)"/><circle cx="631.2" cy="452.6" r="9.2" fill="url(#gB)"/><circle cx="610.4" cy="469.6" r="5.3" fill="url(#gO)"/><circle cx="652.7" cy="468.6" r="5.3" fill="url(#gO)"/><circle cx="590.2" cy="485.6" r="5.7" fill="url(#gO)"/><circle cx="674.2" cy="484.1" r="5.7" fill="url(#gO)"/></g>
<circle cx="483.8" cy="542.8" r="7.6" fill="url(#gW)"/><circle cx="540.8" cy="542.8" r="7.6" fill="url(#gW)"/><circle cx="512.3" cy="531.3" r="5.0" fill="url(#gO)"/><polygon points="473.8,526.3 503.8,530.3 503.5,541.9 491.6,553.6" fill="#a6a59f" fill-opacity="0.90"/><polygon points="550.8,525.3 520.8,530.3 521.1,541.9 533.8,552.8" fill="#a6a59f" fill-opacity="0.90"/><polygon points="503.8,530.3 503.5,541.9 491.6,553.6 493.3,538.8" fill="#8f8e89" fill-opacity="0.50"/><polygon points="520.8,530.3 521.1,541.9 533.8,552.8 531.3,538.8" fill="#8f8e89" fill-opacity="0.50"/><circle cx="487.3" cy="579.6" r="10.4" fill="url(#gW)"/><circle cx="539.3" cy="578.8" r="10.4" fill="url(#gW)"/><polygon points="471.3,569.8 491.6,553.8 513.1,567.8 501.3,572.8 478.3,573.8" fill="#868580" fill-opacity="0.95"/><polygon points="555.3,568.3 533.8,552.8 513.1,567.8 524.3,572.3 547.3,573.3" fill="#868580" fill-opacity="0.95"/><polygon points="471.3,569.8 478.3,573.8 501.3,572.8 513.1,567.8 492.3,566.8" fill="#6f6e6a" fill-opacity="0.90"/><polygon points="555.3,568.3 547.3,573.3 524.3,572.3 513.1,567.8 533.3,566.3" fill="#6f6e6a" fill-opacity="0.90"/><line x1="513.1" y1="567.8" x2="501.2" y2="572.0" stroke="#e81010" stroke-width="2.6"/><line x1="501.2" y1="572.0" x2="489.3" y2="576.3" stroke="#d8d8d8" stroke-width="2.6"/><line x1="513.1" y1="567.8" x2="525.2" y2="571.8" stroke="#e81010" stroke-width="2.6"/><line x1="525.2" y1="571.8" x2="537.3" y2="575.8" stroke="#d8d8d8" stroke-width="2.6"/><line x1="512.3" y1="536.8" x2="501.9" y2="545.3" stroke="#1a1e8e" stroke-width="2.6"/><line x1="501.9" y1="545.3" x2="491.5" y2="553.8" stroke="#e81010" stroke-width="2.6"/><line x1="512.3" y1="536.8" x2="523.0" y2="544.8" stroke="#1a1e8e" stroke-width="2.6"/><line x1="523.0" y1="544.8" x2="533.8" y2="552.8" stroke="#e81010" stroke-width="2.6"/><line x1="512.3" y1="536.8" x2="512.7" y2="552.3" stroke="#1a1e8e" stroke-width="2.6"/><line x1="512.7" y1="552.3" x2="513.1" y2="567.8" stroke="#e81010" stroke-width="2.6"/><line x1="512.3" y1="536.8" x2="501.4" y2="529.8" stroke="#1a1e8e" stroke-width="2.6"/><line x1="501.4" y1="529.8" x2="490.6" y2="522.8" stroke="#111" stroke-width="2.6"/><line x1="490.6" y1="522.8" x2="483.6" y2="518.9" stroke="#111" stroke-width="2.6"/><line x1="483.6" y1="518.9" x2="476.7" y2="515.0" stroke="#e81010" stroke-width="2.6"/><line x1="512.3" y1="536.8" x2="523.1" y2="529.3" stroke="#1a1e8e" stroke-width="2.6"/><line x1="523.1" y1="529.3" x2="534.0" y2="521.8" stroke="#111" stroke-width="2.6"/><line x1="534.0" y1="521.8" x2="540.6" y2="517.3" stroke="#111" stroke-width="2.6"/><line x1="540.6" y1="517.3" x2="547.3" y2="512.8" stroke="#e81010" stroke-width="2.6"/><circle cx="473.4" cy="525.5" r="5.2" fill="url(#gOl)"/><circle cx="550.8" cy="524.3" r="5.2" fill="url(#gOl)"/><circle cx="476.7" cy="515.0" r="5.7" fill="url(#gO)"/><circle cx="547.3" cy="512.8" r="5.7" fill="url(#gO)"/><circle cx="490.6" cy="522.8" r="5.3" fill="url(#gC)"/><circle cx="534.0" cy="521.8" r="5.3" fill="url(#gC)"/><circle cx="512.3" cy="536.8" r="9.2" fill="url(#gB)"/><circle cx="491.5" cy="553.8" r="5.3" fill="url(#gO)"/><circle cx="533.8" cy="552.8" r="5.3" fill="url(#gO)"/><circle cx="471.3" cy="569.8" r="5.7" fill="url(#gO)"/><circle cx="555.3" cy="568.3" r="5.7" fill="url(#gO)"/><line x1="513.8" y1="555.3" x2="513.6" y2="559.9" stroke="#b00000" stroke-width="2.2"/><line x1="513.6" y1="559.9" x2="513.5" y2="564.6" stroke="#b00000" stroke-width="2.2"/><circle cx="513.5" cy="564.6" r="5.6" fill="url(#gO)"/><circle cx="513.8" cy="555.3" r="6.0" fill="url(#gO)"/>
<rect x="616.3" y="475.4" width="31.7" height="28.1" rx="5" fill="#d0d0d0" opacity="0.7" filter="url(#soft)"/>
<rect x="617.3" y="476.4" width="29.7" height="26.1" rx="4.2" fill="url(#gV)" stroke="#f01414" stroke-width="1.5" stroke-dasharray="4.4 2.1" stroke-dashoffset="-1"/>
<path d="M392.6,422.6 C393,405 420,383 456,380" fill="none" stroke="#000" stroke-width="2.4" stroke-linecap="butt"/>
<polygon points="462.5,379.5 455,375.8 455.6,383.6" fill="#000"/>
<path d="M389.7,397 C394,400.5 399,400 405.5,397.5" fill="none" stroke="#000" stroke-width="1.4"/>
<path d="M560.9,378.9 C590,379 622,390 629.5,414.5" fill="none" stroke="#000" stroke-width="2.4" stroke-linecap="butt"/>
<polygon points="630.5,421.5 626.5,413.5 634,413" fill="#000"/>
<path d="M580,380 C585,378.5 590,377.5 593.5,374.8" fill="none" stroke="#000" stroke-width="1.4"/>
<polygon points="595,373.5 590.5,374.2 593.5,377.5" fill="#000"/>
<path d="M624.8,392.9 C623.5,396 623.5,399 625,402" fill="none" stroke="#000" stroke-width="1.4"/>
<g filter="url(#glowB)"><path d="M630.4,507 C631,526 610,542 568,548.3" fill="none" stroke="#000" stroke-width="2.4" stroke-linecap="butt"/>
<polygon points="561.5,548.4 569,544.8 569.3,552" fill="#000"/>
<path d="M640.3,528.8 C636,524.5 628,526 621.5,529.2" fill="none" stroke="#000" stroke-width="1.4"/></g>
<path d="M462.4,549 C430,546 405,535 395,513.5" fill="none" stroke="#000" stroke-width="2.4" stroke-linecap="butt"/>
<polygon points="392.6,506.5 390,514.5 397.3,513" fill="#000"/>
<path d="M388.5,530 C395,528.5 401,529.5 407.5,531.5" fill="none" stroke="#000" stroke-width="1.4"/>
<polygon points="386.8,530.2 391,527.8 391,532.6" fill="#000"/>
<text x="347.4" y="377.2" style="font-family:'Liberation Sans',Arial,Helvetica,sans-serif;font-size:11.3px">(IV) CO adsorption</text>
<text x="371.2" y="396.3" style="font-family:'Liberation Sans',Arial,Helvetica,sans-serif;font-size:11.3px">CO</text>
<text x="582.6" y="365.2" style="font-family:'Liberation Sans',Arial,Helvetica,sans-serif;font-size:11.3px">CO<tspan dy="3.2" style="font-size:8px">2</tspan></text>
<text x="600.3" y="382.0" style="font-family:'Liberation Sans',Arial,Helvetica,sans-serif;font-size:11.3px">(I) OV formation</text>
<text x="628.9" y="395.7" style="font-family:'Liberation Sans',Arial,Helvetica,sans-serif;font-size:11.3px">CO</text>
<text x="643.4" y="538.2" style="font-family:'Liberation Sans',Arial,Helvetica,sans-serif;font-size:11.3px">O<tspan dy="3.2" style="font-size:8px">2</tspan></text>
<text x="600.8" y="557.0" style="font-family:'Liberation Sans',Arial,Helvetica,sans-serif;font-size:11.3px">(II) OV refill</text>
<text x="368.0" y="536.0" style="font-family:'Liberation Sans',Arial,Helvetica,sans-serif;font-size:11.3px">CO<tspan dy="3.2" style="font-size:8px">2</tspan></text>
<text x="349.3" y="554.0" style="font-family:'Liberation Sans',Arial,Helvetica,sans-serif;font-size:11.3px">(III) CO oxidation</text>
</g>
</svg>
</body></html>
